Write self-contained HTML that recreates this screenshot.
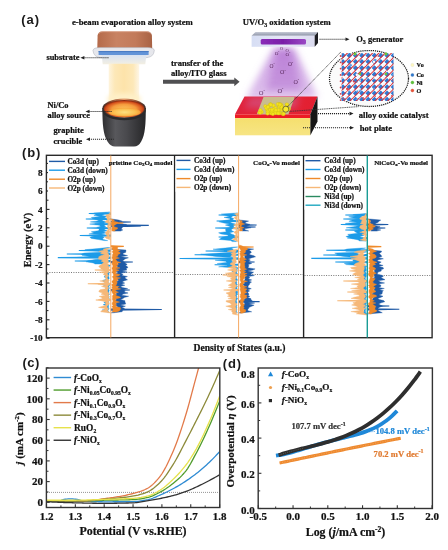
<!DOCTYPE html>
<html><head><meta charset="utf-8"><title>Figure</title>
<style>html,body{margin:0;padding:0;background:#fff;width:448px;height:550px;overflow:hidden}svg{display:block}</style>
</head><body><svg width="448" height="550" viewBox="0 0 448 550">
<defs>
<linearGradient id="copper" x1="0" x2="1" y1="0" y2="0">
 <stop offset="0" stop-color="#b46a4a"/><stop offset="0.35" stop-color="#c88262"/><stop offset="0.7" stop-color="#c27a5a"/><stop offset="1" stop-color="#a86244"/>
</linearGradient>
<linearGradient id="beam" x1="0" x2="1" y1="0" y2="0">
 <stop offset="0" stop-color="#fef4de"/><stop offset="0.2" stop-color="#fde8b8"/><stop offset="0.5" stop-color="#fde3aa"/><stop offset="0.8" stop-color="#fde8b8"/><stop offset="1" stop-color="#fef6e6"/>
</linearGradient>
<linearGradient id="beamv" x1="0" x2="0" y1="0" y2="1">
 <stop offset="0" stop-color="#ffffff" stop-opacity="0.35"/><stop offset="1" stop-color="#ffffff" stop-opacity="0"/>
</linearGradient>
<linearGradient id="cruc" x1="0" x2="1" y1="0" y2="0">
 <stop offset="0" stop-color="#2e2e30"/><stop offset="0.3" stop-color="#58585c"/><stop offset="0.55" stop-color="#4a4a4e"/><stop offset="1" stop-color="#262628"/>
</linearGradient>
<radialGradient id="melt" cx="0.5" cy="0.5" r="0.5">
 <stop offset="0" stop-color="#fde080"/><stop offset="0.7" stop-color="#fbc050"/><stop offset="1" stop-color="#f6a038"/>
</radialGradient>
<linearGradient id="inner" x1="0" x2="1" y1="0" y2="0">
 <stop offset="0" stop-color="#8a1e10"/><stop offset="0.2" stop-color="#e0622a"/><stop offset="0.5" stop-color="#f6a860"/><stop offset="0.8" stop-color="#e0622a"/><stop offset="1" stop-color="#8a1e10"/>
</linearGradient>
<linearGradient id="lamptop" x1="0" x2="0" y1="0" y2="1">
 <stop offset="0" stop-color="#c6cad6"/><stop offset="1" stop-color="#8c93a6"/>
</linearGradient>
<linearGradient id="lampbar" x1="0" x2="1" y1="0" y2="0">
 <stop offset="0" stop-color="#8a2cb8"/><stop offset="0.5" stop-color="#7a1ea8"/><stop offset="1" stop-color="#9a48c4"/>
</linearGradient>
<linearGradient id="cone" x1="0" x2="0" y1="0" y2="1">
 <stop offset="0" stop-color="#b87ad8" stop-opacity="0.75"/><stop offset="1" stop-color="#c898e0" stop-opacity="0.6"/>
</linearGradient>
<filter id="blur3" x="-30%" y="-30%" width="160%" height="160%"><feGaussianBlur stdDeviation="3.5"/></filter>
<linearGradient id="plate" x1="0" x2="0" y1="0" y2="1"><stop offset="0" stop-color="#e4e6ec"/><stop offset="0.5" stop-color="#eef2f8"/><stop offset="1" stop-color="#dfe8f3"/></linearGradient>
<radialGradient id="opening" cx="0.5" cy="0.55" r="0.55"><stop offset="0" stop-color="#fcc860"/><stop offset="0.55" stop-color="#f59a3c"/><stop offset="0.82" stop-color="#d5501c"/><stop offset="1" stop-color="#6e1808"/></radialGradient>
<filter id="blur2" x="-50%" y="-50%" width="200%" height="200%"><feGaussianBlur stdDeviation="2"/></filter>
<linearGradient id="lampfront" x1="0" x2="1" y1="0" y2="0"><stop offset="0" stop-color="#d6def4"/><stop offset="0.5" stop-color="#e6e6f6"/><stop offset="1" stop-color="#dcdcf0"/></linearGradient>
<linearGradient id="glass" x1="0" x2="0" y1="0" y2="1"><stop offset="0" stop-color="#d8e2f2"/><stop offset="1" stop-color="#f3efe2"/></linearGradient>
<linearGradient id="rimg" x1="0" x2="1" y1="0" y2="0"><stop offset="0" stop-color="#3a2a26"/><stop offset="0.2" stop-color="#8a4a30"/><stop offset="0.5" stop-color="#e8a070"/><stop offset="0.8" stop-color="#8a4a30"/><stop offset="1" stop-color="#3a2a26"/></linearGradient>
<filter id="blur1" x="-10%" y="-10%" width="120%" height="120%"><feGaussianBlur stdDeviation="0.6"/></filter>
<linearGradient id="yel" x1="0" x2="0" y1="0" y2="1">
 <stop offset="0" stop-color="#f5df6e"/><stop offset="1" stop-color="#f7e584"/>
</linearGradient>
<linearGradient id="redtop" x1="0" x2="1" y1="0" y2="0">
 <stop offset="0" stop-color="#e0203a"/><stop offset="0.4" stop-color="#e6283a"/><stop offset="1" stop-color="#e21e30"/>
</linearGradient>
<clipPath id="ellclip"><rect x="341.5" y="53" width="52" height="48"/></clipPath>
<clipPath id="cl1"><rect x="46.5" y="155.5" width="128" height="182"/></clipPath>
<clipPath id="cl2"><rect x="175" y="155.5" width="128.5" height="182"/></clipPath>
<clipPath id="cl3"><rect x="304" y="155.5" width="128" height="182"/></clipPath>
<clipPath id="clc"><rect x="46.5" y="368" width="173.3" height="139.5"/></clipPath>
<clipPath id="cld"><rect x="258.5" y="368" width="174" height="140.5"/></clipPath>
</defs>
<rect width="448" height="550" fill="#ffffff"/><text x="21.3" y="24.2" font-size="13" font-family="'Liberation Sans', Arial, sans-serif" font-weight="bold" text-anchor="start" fill="#1a1a1a" letter-spacing="0.9">(a)</text>
<text x="71.9" y="25" font-size="8.7" font-family="'Liberation Serif', 'Times New Roman', serif" font-weight="bold" text-anchor="start" fill="#111" stroke="#111" stroke-width="0.22" >e-beam evaporation alloy system</text>
<text x="286.7" y="25" font-size="8.6" font-family="'Liberation Serif', 'Times New Roman', serif" font-weight="bold" text-anchor="middle" fill="#111" stroke="#111" stroke-width="0.22" >UV/O<tspan font-size="6" dy="2">3</tspan><tspan dy="-2"> oxidation system</tspan></text>
<path d="M97.3,49 L97.6,35.5 Q98,31.6 102,31.4 L147.5,31.4 Q151.6,31.6 151.9,35.5 L152.2,49 Q124.75,51.5 97.3,49 Z" fill="url(#copper)"/>
<path d="M99,33.5 Q100,31.8 103,31.7 L146.5,31.7 Q149.5,31.8 150.5,33.5" fill="none" stroke="#d9a088" stroke-width="0.8"/>
<path d="M93,50.3 Q93.5,47.6 100,47.6 L147.5,47.6 Q154,47.6 154.3,50.3 Q154,56.8 147,57.6 L100,57.6 Q93.4,56.8 93,50.3 Z" fill="#e6e7ec" stroke="#a9acb6" stroke-width="0.5"/>
<path d="M101.7,55 L146.3,55 L145.3,64.3 L102.7,64.3 Z" fill="url(#glass)"/>
<rect x="98.6" y="51" width="50" height="4" fill="#6394d8"/>
<rect x="98.6" y="51" width="50" height="1.1" fill="#4a7cc4"/>
<rect x="108.7" y="63.8" width="30.5" height="38" fill="url(#beam)"/>
<ellipse cx="124" cy="99" rx="17" ry="6" fill="#fff0c8" filter="url(#blur2)"/>
<path d="M102.4,108 C102.4,124 103.2,135 107.5,141.5 Q110.5,146.6 115,146.6 L134,146.6 Q138.5,146.6 141.2,141.5 C145.2,135 145.8,124 145.8,108 Z" fill="url(#cruc)"/>
<ellipse cx="124.1" cy="108.2" rx="21.7" ry="9.6" fill="url(#rimg)"/>
<ellipse cx="124.1" cy="108.6" rx="20.2" ry="8.6" fill="url(#opening)"/>
<ellipse cx="124.6" cy="112.2" rx="16" ry="4.4" fill="url(#melt)" filter="url(#blur1)"/>
<path d="M102.4,108.2 A21.7,9.6 0 0 0 145.8,108.2 L145.8,110.6 A21.7,9.6 0 0 1 102.4,110.6 Z" fill="#2a2a2c"/>
<text x="46.4" y="59.5" font-size="8.4" font-family="'Liberation Serif', 'Times New Roman', serif" font-weight="bold" text-anchor="start" fill="#111" stroke="#111" stroke-width="0.22" >substrate</text>
<line x1="83.4" y1="57.8" x2="108.5" y2="57.8" stroke="#222" stroke-width="1.1" stroke-dasharray="1.1,0.9"/>
<path d="M80.4,57.8 L84.4,56.0 L84.4,59.599999999999994Z" fill="#222"/>
<text x="47.5" y="107.6" font-size="8.4" font-family="'Liberation Serif', 'Times New Roman', serif" font-weight="bold" text-anchor="start" fill="#111" stroke="#111" stroke-width="0.22" >Ni/Co</text>
<text x="47.5" y="117.8" font-size="8.4" font-family="'Liberation Serif', 'Times New Roman', serif" font-weight="bold" text-anchor="start" fill="#111" stroke="#111" stroke-width="0.22" >alloy source</text>
<line x1="88.5" y1="111.5" x2="112.5" y2="111.5" stroke="#222" stroke-width="1.1" stroke-dasharray="1.1,0.9"/>
<path d="M85.5,111.5 L89.5,109.7 L89.5,113.3Z" fill="#222"/>
<text x="53.4" y="133.3" font-size="8.4" font-family="'Liberation Serif', 'Times New Roman', serif" font-weight="bold" text-anchor="start" fill="#111" stroke="#111" stroke-width="0.22" >graphite</text>
<text x="53.4" y="143.5" font-size="8.4" font-family="'Liberation Serif', 'Times New Roman', serif" font-weight="bold" text-anchor="start" fill="#111" stroke="#111" stroke-width="0.22" >crucible</text>
<line x1="89" y1="139.2" x2="113.7" y2="139.2" stroke="#222" stroke-width="1.1" stroke-dasharray="1.1,0.9"/>
<path d="M86,139.2 L90,137.39999999999998 L90,141.0Z" fill="#222"/>
<text x="171" y="65.7" font-size="8.6" font-family="'Liberation Serif', 'Times New Roman', serif" font-weight="bold" text-anchor="start" fill="#111" stroke="#111" stroke-width="0.22" >transfer of the</text>
<text x="171" y="76.2" font-size="8.6" font-family="'Liberation Serif', 'Times New Roman', serif" font-weight="bold" text-anchor="start" fill="#111" stroke="#111" stroke-width="0.22" >alloy/ITO glass</text>
<path d="M163,79.8 L234.3,79.8 L234.3,77.5 L239.6,81.8 L234.3,86.2 L234.3,83.8 L163,83.8 Z" fill="#505052"/>
<path d="M274,48 L294,48 L318,98 L246,98 Z" fill="url(#cone)" filter="url(#blur3)"/>
<path d="M278,49 L290,49 L302,90 L266,90 Z" fill="#a050c4" opacity="0.35" filter="url(#blur3)"/>
<text x="258.7" y="94.9" font-size="6.5" font-family="'Liberation Serif', 'Times New Roman', serif" fill="#5a2a5e">O<tspan font-size="3.9" dy="-2.6">-</tspan></text>
<text x="277.4" y="93.0" font-size="6.5" font-family="'Liberation Serif', 'Times New Roman', serif" fill="#5a2a5e">O<tspan font-size="3.9" dy="-2.6">-</tspan></text>
<text x="293.5" y="83.6" font-size="6" font-family="'Liberation Serif', 'Times New Roman', serif" fill="#5a2a5e">O<tspan font-size="3.6" dy="-2.4">-</tspan></text>
<text x="280.1" y="74.2" font-size="6" font-family="'Liberation Serif', 'Times New Roman', serif" fill="#5a2a5e">O<tspan font-size="3.6" dy="-2.4">-</tspan></text>
<text x="269.4" y="67.5" font-size="5.5" font-family="'Liberation Serif', 'Times New Roman', serif" fill="#5a2a5e">O<tspan font-size="3.3" dy="-2.2">-</tspan></text>
<text x="288.1" y="66.2" font-size="5.5" font-family="'Liberation Serif', 'Times New Roman', serif" fill="#5a2a5e">O<tspan font-size="3.3" dy="-2.2">-</tspan></text>
<text x="274.7" y="54.7" font-size="5" font-family="'Liberation Serif', 'Times New Roman', serif" fill="#5a2a5e">O<tspan font-size="3.0" dy="-2.0">-</tspan></text>
<text x="285.5" y="56.0" font-size="5" font-family="'Liberation Serif', 'Times New Roman', serif" fill="#5a2a5e">O<tspan font-size="3.0" dy="-2.0">-</tspan></text>
<text x="280.1" y="50.1" font-size="4.5" font-family="'Liberation Serif', 'Times New Roman', serif" fill="#5a2a5e">O<tspan font-size="2.7" dy="-1.8">-</tspan></text>
<text x="285.5" y="51.5" font-size="4.5" font-family="'Liberation Serif', 'Times New Roman', serif" fill="#5a2a5e">O<tspan font-size="2.7" dy="-1.8">-</tspan></text>
<path d="M255.5,32 L318,32 L314.7,35.8 L251.6,35.8 Z" fill="url(#lamptop)"/>
<rect x="251.6" y="35.8" width="63.1" height="11" fill="url(#lampfront)"/>
<rect x="260.7" y="39" width="45.3" height="5.4" rx="1.5" fill="url(#lampbar)" filter="url(#blur1)"/>
<path d="M314.7,35.8 L318,32 L318,43 L314.7,46.8 Z" fill="#1e1e22"/>
<line x1="319.5" y1="39.3" x2="346.5" y2="39.3" stroke="#222" stroke-width="1.1" stroke-dasharray="1.1,0.9"/>
<path d="M349.5,39.3 L345.5,37.5 L345.5,41.099999999999994Z" fill="#222"/>
<text x="356.2" y="41.6" font-size="8.5" font-family="'Liberation Serif', 'Times New Roman', serif" font-weight="bold" text-anchor="start" fill="#111" stroke="#111" stroke-width="0.22" >O<tspan font-size="6" dy="2">3</tspan><tspan dy="-2"> generator</tspan></text>
<path d="M244.5,96.5 L317.5,96.5 L310.4,114.3 L235,114.3 Z" fill="url(#redtop)"/>
<rect x="235" y="114.3" width="75.4" height="3.8" fill="#ec1c24"/>
<rect x="235" y="118.1" width="75.4" height="17.2" fill="url(#yel)"/>
<path d="M310.4,114.3 L317.5,96.5 L317.5,121.5 L310.4,135.3 Z" fill="#161616"/>
<path d="M250,97 L300,97 L296,108 L244,108 Z" fill="#c080d0" opacity="0.35" filter="url(#blur3)"/>
<path d="M263.5,97 L294.7,97 L288.5,114.3 L256.8,114.3 Z" fill="#c9bd8e"/>
<circle cx="267.0" cy="109.4" r="1.7" fill="#f3e21c" stroke="#c8b410" stroke-width="0.3"/><circle cx="270.5" cy="110.0" r="1.7" fill="#f3e21c" stroke="#c8b410" stroke-width="0.3"/><circle cx="279.8" cy="104.7" r="1.7" fill="#f3e21c" stroke="#c8b410" stroke-width="0.3"/><circle cx="259.4" cy="112.4" r="1.7" fill="#f3e21c" stroke="#c8b410" stroke-width="0.3"/><circle cx="268.8" cy="106.3" r="1.7" fill="#f3e21c" stroke="#c8b410" stroke-width="0.3"/><circle cx="288.9" cy="108.7" r="1.7" fill="#f3e21c" stroke="#c8b410" stroke-width="0.3"/><circle cx="284.3" cy="108.8" r="1.7" fill="#f3e21c" stroke="#c8b410" stroke-width="0.3"/><circle cx="279.9" cy="105.5" r="1.7" fill="#f3e21c" stroke="#c8b410" stroke-width="0.3"/><circle cx="277.1" cy="112.7" r="1.7" fill="#f3e21c" stroke="#c8b410" stroke-width="0.3"/><circle cx="274.4" cy="111.4" r="1.7" fill="#f3e21c" stroke="#c8b410" stroke-width="0.3"/><circle cx="281.1" cy="104.6" r="1.7" fill="#f3e21c" stroke="#c8b410" stroke-width="0.3"/><circle cx="281.7" cy="109.9" r="1.7" fill="#f3e21c" stroke="#c8b410" stroke-width="0.3"/><circle cx="270.7" cy="104.3" r="1.7" fill="#f3e21c" stroke="#c8b410" stroke-width="0.3"/><circle cx="285.2" cy="108.7" r="1.7" fill="#f3e21c" stroke="#c8b410" stroke-width="0.3"/><circle cx="279.5" cy="112.8" r="1.7" fill="#f3e21c" stroke="#c8b410" stroke-width="0.3"/><circle cx="279.2" cy="113.2" r="1.7" fill="#f3e21c" stroke="#c8b410" stroke-width="0.3"/><circle cx="270.5" cy="112.0" r="1.7" fill="#f3e21c" stroke="#c8b410" stroke-width="0.3"/><circle cx="271.4" cy="113.4" r="1.7" fill="#f3e21c" stroke="#c8b410" stroke-width="0.3"/><circle cx="286.9" cy="105.0" r="1.7" fill="#f3e21c" stroke="#c8b410" stroke-width="0.3"/><circle cx="265.3" cy="106.2" r="1.7" fill="#f3e21c" stroke="#c8b410" stroke-width="0.3"/><circle cx="288.1" cy="108.4" r="1.7" fill="#f3e21c" stroke="#c8b410" stroke-width="0.3"/><circle cx="279.0" cy="107.0" r="1.7" fill="#f3e21c" stroke="#c8b410" stroke-width="0.3"/><circle cx="275.3" cy="107.9" r="1.7" fill="#f3e21c" stroke="#c8b410" stroke-width="0.3"/><circle cx="270.0" cy="109.9" r="1.7" fill="#f3e21c" stroke="#c8b410" stroke-width="0.3"/><circle cx="275.5" cy="113.0" r="1.7" fill="#f3e21c" stroke="#c8b410" stroke-width="0.3"/><circle cx="278.2" cy="113.3" r="1.7" fill="#f3e21c" stroke="#c8b410" stroke-width="0.3"/><circle cx="283.0" cy="113.9" r="1.7" fill="#f3e21c" stroke="#c8b410" stroke-width="0.3"/><circle cx="280.8" cy="105.6" r="1.7" fill="#f3e21c" stroke="#c8b410" stroke-width="0.3"/><circle cx="283.2" cy="113.6" r="1.7" fill="#f3e21c" stroke="#c8b410" stroke-width="0.3"/><circle cx="285.9" cy="109.7" r="1.7" fill="#f3e21c" stroke="#c8b410" stroke-width="0.3"/><circle cx="281.8" cy="106.1" r="1.7" fill="#f3e21c" stroke="#c8b410" stroke-width="0.3"/><circle cx="283.8" cy="109.7" r="1.7" fill="#f3e21c" stroke="#c8b410" stroke-width="0.3"/><circle cx="270.1" cy="104.6" r="1.7" fill="#f3e21c" stroke="#c8b410" stroke-width="0.3"/><circle cx="283.0" cy="113.9" r="1.7" fill="#f3e21c" stroke="#c8b410" stroke-width="0.3"/><circle cx="261.7" cy="112.0" r="1.7" fill="#f3e21c" stroke="#c8b410" stroke-width="0.3"/><circle cx="273.4" cy="105.5" r="1.7" fill="#f3e21c" stroke="#c8b410" stroke-width="0.3"/><circle cx="267.7" cy="111.7" r="1.7" fill="#f3e21c" stroke="#c8b410" stroke-width="0.3"/><circle cx="286.9" cy="104.4" r="1.7" fill="#f3e21c" stroke="#c8b410" stroke-width="0.3"/><circle cx="279.6" cy="104.4" r="1.7" fill="#f3e21c" stroke="#c8b410" stroke-width="0.3"/><circle cx="281.5" cy="107.3" r="1.7" fill="#f3e21c" stroke="#c8b410" stroke-width="0.3"/><circle cx="283.8" cy="113.8" r="1.7" fill="#f3e21c" stroke="#c8b410" stroke-width="0.3"/><circle cx="272.9" cy="114.0" r="1.7" fill="#f3e21c" stroke="#c8b410" stroke-width="0.3"/><circle cx="270.8" cy="104.8" r="1.7" fill="#f3e21c" stroke="#c8b410" stroke-width="0.3"/><circle cx="279.2" cy="104.3" r="1.7" fill="#f3e21c" stroke="#c8b410" stroke-width="0.3"/><circle cx="266.3" cy="108.1" r="1.7" fill="#f3e21c" stroke="#c8b410" stroke-width="0.3"/><circle cx="279.1" cy="105.6" r="1.7" fill="#f3e21c" stroke="#c8b410" stroke-width="0.3"/><circle cx="260.1" cy="112.7" r="1.7" fill="#f3e21c" stroke="#c8b410" stroke-width="0.3"/><circle cx="267.6" cy="113.6" r="1.7" fill="#f3e21c" stroke="#c8b410" stroke-width="0.3"/><circle cx="286.4" cy="107.8" r="1.7" fill="#f3e21c" stroke="#c8b410" stroke-width="0.3"/><circle cx="273.4" cy="109.2" r="1.7" fill="#f3e21c" stroke="#c8b410" stroke-width="0.3"/><circle cx="278.4" cy="110.0" r="1.7" fill="#f3e21c" stroke="#c8b410" stroke-width="0.3"/><circle cx="275.9" cy="110.2" r="1.7" fill="#f3e21c" stroke="#c8b410" stroke-width="0.3"/><circle cx="287.2" cy="109.1" r="1.7" fill="#f3e21c" stroke="#c8b410" stroke-width="0.3"/><circle cx="271.8" cy="111.2" r="1.7" fill="#f3e21c" stroke="#c8b410" stroke-width="0.3"/><circle cx="267.9" cy="107.0" r="1.7" fill="#f3e21c" stroke="#c8b410" stroke-width="0.3"/><circle cx="288.2" cy="109.2" r="1.7" fill="#f3e21c" stroke="#c8b410" stroke-width="0.3"/><circle cx="277.8" cy="104.1" r="1.7" fill="#f3e21c" stroke="#c8b410" stroke-width="0.3"/><circle cx="271.9" cy="109.8" r="1.7" fill="#f3e21c" stroke="#c8b410" stroke-width="0.3"/><circle cx="260.5" cy="110.2" r="1.7" fill="#f3e21c" stroke="#c8b410" stroke-width="0.3"/><circle cx="280.0" cy="104.6" r="1.7" fill="#f3e21c" stroke="#c8b410" stroke-width="0.3"/>
<circle cx="285.8" cy="109.2" r="3" fill="#f7ea30" stroke="#333" stroke-width="0.6"/>
<line x1="287.3" y1="107" x2="341" y2="51.8" stroke="#333" stroke-width="0.8" stroke-dasharray="1.2,0.6"/>
<line x1="289.5" y1="111.4" x2="358.6" y2="106.6" stroke="#333" stroke-width="0.8" stroke-dasharray="1.2,0.6"/>
<line x1="318" y1="113.6" x2="350.5" y2="113.6" stroke="#222" stroke-width="1.1" stroke-dasharray="1.1,0.9"/>
<path d="M353.5,113.6 L349.5,111.8 L349.5,115.39999999999999Z" fill="#222"/>
<line x1="303" y1="127.8" x2="351" y2="127.8" stroke="#222" stroke-width="1.1" stroke-dasharray="1.1,0.9"/>
<path d="M354,127.8 L350,126.0 L350,129.6Z" fill="#222"/>
<text x="358.8" y="117.9" font-size="8.6" font-family="'Liberation Serif', 'Times New Roman', serif" font-weight="bold" text-anchor="start" fill="#111" stroke="#111" stroke-width="0.22" >alloy oxide catalyst</text>
<text x="359.8" y="131.3" font-size="8.6" font-family="'Liberation Serif', 'Times New Roman', serif" font-weight="bold" text-anchor="start" fill="#111" stroke="#111" stroke-width="0.22" >hot plate</text>
<ellipse cx="369" cy="78.5" rx="39.5" ry="28" fill="#fbfbfb" stroke="#1a1a1a" stroke-width="1.25" stroke-dasharray="1.2,0.9"/>
<g clip-path="url(#ellclip)"><rect x="341" y="53.5" width="52" height="47.5" fill="#ffffff"/><path d="M343.0,52.7 L345.8,55.5 L343.0,58.3 L340.2,55.5Z" fill="#3078d0"/><path d="M343.0,59.0 L345.8,61.8 L343.0,64.6 L340.2,61.8Z" fill="#3078d0"/><path d="M343.0,65.3 L345.8,68.1 L343.0,70.9 L340.2,68.1Z" fill="#3078d0"/><path d="M343.0,71.6 L345.8,74.4 L343.0,77.2 L340.2,74.4Z" fill="#3078d0"/><path d="M343.0,77.9 L345.8,80.7 L343.0,83.5 L340.2,80.7Z" fill="#3078d0"/><path d="M343.0,84.2 L345.8,87.0 L343.0,89.8 L340.2,87.0Z" fill="#3078d0"/><path d="M343.0,90.5 L345.8,93.3 L343.0,96.1 L340.2,93.3Z" fill="#3078d0"/><path d="M343.0,96.8 L345.8,99.6 L343.0,102.4 L340.2,99.6Z" fill="#3078d0"/><path d="M349.3,52.7 L352.1,55.5 L349.3,58.3 L346.5,55.5Z" fill="#3078d0"/><path d="M349.3,59.0 L352.1,61.8 L349.3,64.6 L346.5,61.8Z" fill="#3078d0"/><path d="M349.3,65.3 L352.1,68.1 L349.3,70.9 L346.5,68.1Z" fill="#3078d0"/><path d="M349.3,71.6 L352.1,74.4 L349.3,77.2 L346.5,74.4Z" fill="#3078d0"/><path d="M349.3,77.9 L352.1,80.7 L349.3,83.5 L346.5,80.7Z" fill="#3078d0"/><path d="M349.3,84.2 L352.1,87.0 L349.3,89.8 L346.5,87.0Z" fill="#3078d0"/><path d="M349.3,90.5 L352.1,93.3 L349.3,96.1 L346.5,93.3Z" fill="#3078d0"/><path d="M349.3,96.8 L352.1,99.6 L349.3,102.4 L346.5,99.6Z" fill="#3078d0"/><path d="M355.6,52.7 L358.4,55.5 L355.6,58.3 L352.8,55.5Z" fill="#3078d0"/><path d="M355.6,59.0 L358.4,61.8 L355.6,64.6 L352.8,61.8Z" fill="#3078d0"/><path d="M355.6,65.3 L358.4,68.1 L355.6,70.9 L352.8,68.1Z" fill="#3078d0"/><path d="M355.6,71.6 L358.4,74.4 L355.6,77.2 L352.8,74.4Z" fill="#3078d0"/><path d="M355.6,77.9 L358.4,80.7 L355.6,83.5 L352.8,80.7Z" fill="#3078d0"/><path d="M355.6,84.2 L358.4,87.0 L355.6,89.8 L352.8,87.0Z" fill="#3078d0"/><path d="M355.6,90.5 L358.4,93.3 L355.6,96.1 L352.8,93.3Z" fill="#3078d0"/><path d="M355.6,96.8 L358.4,99.6 L355.6,102.4 L352.8,99.6Z" fill="#3078d0"/><path d="M361.9,52.7 L364.7,55.5 L361.9,58.3 L359.1,55.5Z" fill="#3078d0"/><path d="M361.9,59.0 L364.7,61.8 L361.9,64.6 L359.1,61.8Z" fill="#3078d0"/><path d="M361.9,65.3 L364.7,68.1 L361.9,70.9 L359.1,68.1Z" fill="#3078d0"/><path d="M361.9,71.6 L364.7,74.4 L361.9,77.2 L359.1,74.4Z" fill="#3078d0"/><path d="M361.9,77.9 L364.7,80.7 L361.9,83.5 L359.1,80.7Z" fill="#3078d0"/><path d="M361.9,84.2 L364.7,87.0 L361.9,89.8 L359.1,87.0Z" fill="#3078d0"/><path d="M361.9,90.5 L364.7,93.3 L361.9,96.1 L359.1,93.3Z" fill="#3078d0"/><path d="M361.9,96.8 L364.7,99.6 L361.9,102.4 L359.1,99.6Z" fill="#3078d0"/><path d="M368.2,52.7 L371.0,55.5 L368.2,58.3 L365.4,55.5Z" fill="#3078d0"/><path d="M368.2,59.0 L371.0,61.8 L368.2,64.6 L365.4,61.8Z" fill="#3078d0"/><path d="M368.2,65.3 L371.0,68.1 L368.2,70.9 L365.4,68.1Z" fill="#3078d0"/><path d="M368.2,71.6 L371.0,74.4 L368.2,77.2 L365.4,74.4Z" fill="#3078d0"/><path d="M368.2,77.9 L371.0,80.7 L368.2,83.5 L365.4,80.7Z" fill="#3078d0"/><path d="M368.2,84.2 L371.0,87.0 L368.2,89.8 L365.4,87.0Z" fill="#3078d0"/><path d="M368.2,90.5 L371.0,93.3 L368.2,96.1 L365.4,93.3Z" fill="#3078d0"/><path d="M368.2,96.8 L371.0,99.6 L368.2,102.4 L365.4,99.6Z" fill="#3078d0"/><path d="M374.5,52.7 L377.3,55.5 L374.5,58.3 L371.7,55.5Z" fill="#3078d0"/><path d="M374.5,59.0 L377.3,61.8 L374.5,64.6 L371.7,61.8Z" fill="#3078d0"/><path d="M374.5,65.3 L377.3,68.1 L374.5,70.9 L371.7,68.1Z" fill="#3078d0"/><path d="M374.5,71.6 L377.3,74.4 L374.5,77.2 L371.7,74.4Z" fill="#3078d0"/><path d="M374.5,77.9 L377.3,80.7 L374.5,83.5 L371.7,80.7Z" fill="#3078d0"/><path d="M374.5,84.2 L377.3,87.0 L374.5,89.8 L371.7,87.0Z" fill="#3078d0"/><path d="M374.5,90.5 L377.3,93.3 L374.5,96.1 L371.7,93.3Z" fill="#3078d0"/><path d="M374.5,96.8 L377.3,99.6 L374.5,102.4 L371.7,99.6Z" fill="#3078d0"/><path d="M380.8,52.7 L383.6,55.5 L380.8,58.3 L378.0,55.5Z" fill="#3078d0"/><path d="M380.8,59.0 L383.6,61.8 L380.8,64.6 L378.0,61.8Z" fill="#3078d0"/><path d="M380.8,65.3 L383.6,68.1 L380.8,70.9 L378.0,68.1Z" fill="#3078d0"/><path d="M380.8,71.6 L383.6,74.4 L380.8,77.2 L378.0,74.4Z" fill="#3078d0"/><path d="M380.8,77.9 L383.6,80.7 L380.8,83.5 L378.0,80.7Z" fill="#3078d0"/><path d="M380.8,84.2 L383.6,87.0 L380.8,89.8 L378.0,87.0Z" fill="#3078d0"/><path d="M380.8,90.5 L383.6,93.3 L380.8,96.1 L378.0,93.3Z" fill="#3078d0"/><path d="M380.8,96.8 L383.6,99.6 L380.8,102.4 L378.0,99.6Z" fill="#3078d0"/><path d="M387.1,52.7 L389.9,55.5 L387.1,58.3 L384.3,55.5Z" fill="#3078d0"/><path d="M387.1,59.0 L389.9,61.8 L387.1,64.6 L384.3,61.8Z" fill="#3078d0"/><path d="M387.1,65.3 L389.9,68.1 L387.1,70.9 L384.3,68.1Z" fill="#3078d0"/><path d="M387.1,71.6 L389.9,74.4 L387.1,77.2 L384.3,74.4Z" fill="#3078d0"/><path d="M387.1,77.9 L389.9,80.7 L387.1,83.5 L384.3,80.7Z" fill="#3078d0"/><path d="M387.1,84.2 L389.9,87.0 L387.1,89.8 L384.3,87.0Z" fill="#3078d0"/><path d="M387.1,90.5 L389.9,93.3 L387.1,96.1 L384.3,93.3Z" fill="#3078d0"/><path d="M387.1,96.8 L389.9,99.6 L387.1,102.4 L384.3,99.6Z" fill="#3078d0"/><path d="M393.4,52.7 L396.2,55.5 L393.4,58.3 L390.6,55.5Z" fill="#3078d0"/><path d="M393.4,59.0 L396.2,61.8 L393.4,64.6 L390.6,61.8Z" fill="#3078d0"/><path d="M393.4,65.3 L396.2,68.1 L393.4,70.9 L390.6,68.1Z" fill="#3078d0"/><path d="M393.4,71.6 L396.2,74.4 L393.4,77.2 L390.6,74.4Z" fill="#3078d0"/><path d="M393.4,77.9 L396.2,80.7 L393.4,83.5 L390.6,80.7Z" fill="#3078d0"/><path d="M393.4,84.2 L396.2,87.0 L393.4,89.8 L390.6,87.0Z" fill="#3078d0"/><path d="M393.4,90.5 L396.2,93.3 L393.4,96.1 L390.6,93.3Z" fill="#3078d0"/><path d="M393.4,96.8 L396.2,99.6 L393.4,102.4 L390.6,99.6Z" fill="#3078d0"/><line x1="267.0" y1="102" x2="317.0" y2="52" stroke="#d8323a" stroke-width="1.05"/><line x1="273.3" y1="102" x2="323.3" y2="52" stroke="#d8323a" stroke-width="1.05"/><line x1="279.6" y1="102" x2="329.6" y2="52" stroke="#d8323a" stroke-width="1.05"/><line x1="285.9" y1="102" x2="335.9" y2="52" stroke="#d8323a" stroke-width="1.05"/><line x1="292.2" y1="102" x2="342.2" y2="52" stroke="#d8323a" stroke-width="1.05"/><line x1="298.5" y1="102" x2="348.5" y2="52" stroke="#d8323a" stroke-width="1.05"/><line x1="304.8" y1="102" x2="354.8" y2="52" stroke="#d8323a" stroke-width="1.05"/><line x1="311.1" y1="102" x2="361.1" y2="52" stroke="#d8323a" stroke-width="1.05"/><line x1="317.4" y1="102" x2="367.4" y2="52" stroke="#d8323a" stroke-width="1.05"/><line x1="323.7" y1="102" x2="373.7" y2="52" stroke="#d8323a" stroke-width="1.05"/><line x1="330.0" y1="102" x2="380.0" y2="52" stroke="#d8323a" stroke-width="1.05"/><line x1="336.3" y1="102" x2="386.3" y2="52" stroke="#d8323a" stroke-width="1.05"/><line x1="342.6" y1="102" x2="392.6" y2="52" stroke="#d8323a" stroke-width="1.05"/><line x1="348.9" y1="102" x2="398.9" y2="52" stroke="#d8323a" stroke-width="1.05"/><line x1="355.2" y1="102" x2="405.2" y2="52" stroke="#d8323a" stroke-width="1.05"/><line x1="361.5" y1="102" x2="411.5" y2="52" stroke="#d8323a" stroke-width="1.05"/><line x1="367.8" y1="102" x2="417.8" y2="52" stroke="#d8323a" stroke-width="1.05"/><line x1="374.1" y1="102" x2="424.1" y2="52" stroke="#d8323a" stroke-width="1.05"/><line x1="380.4" y1="102" x2="430.4" y2="52" stroke="#d8323a" stroke-width="1.05"/><line x1="386.7" y1="102" x2="436.7" y2="52" stroke="#d8323a" stroke-width="1.05"/><line x1="393.0" y1="102" x2="443.0" y2="52" stroke="#d8323a" stroke-width="1.05"/><line x1="399.3" y1="102" x2="449.3" y2="52" stroke="#d8323a" stroke-width="1.05"/><line x1="405.6" y1="102" x2="455.6" y2="52" stroke="#d8323a" stroke-width="1.05"/><line x1="411.9" y1="102" x2="461.9" y2="52" stroke="#d8323a" stroke-width="1.05"/><circle cx="346.1" cy="58.6" r="1.1" fill="#eef4ff"/><circle cx="346.1" cy="65.0" r="1.1" fill="#eef4ff"/><circle cx="346.1" cy="71.2" r="1.1" fill="#eef4ff"/><circle cx="346.1" cy="77.6" r="1.1" fill="#eef4ff"/><circle cx="346.1" cy="83.9" r="1.1" fill="#eef4ff"/><circle cx="346.1" cy="90.2" r="1.1" fill="#eef4ff"/><circle cx="346.1" cy="96.5" r="1.1" fill="#eef4ff"/><circle cx="346.1" cy="102.8" r="1.1" fill="#eef4ff"/><circle cx="352.4" cy="58.6" r="1.1" fill="#eef4ff"/><circle cx="352.4" cy="65.0" r="1.1" fill="#eef4ff"/><circle cx="352.4" cy="71.2" r="1.1" fill="#eef4ff"/><circle cx="352.4" cy="77.6" r="1.1" fill="#eef4ff"/><circle cx="352.4" cy="83.9" r="1.1" fill="#eef4ff"/><circle cx="352.4" cy="90.2" r="1.1" fill="#eef4ff"/><circle cx="352.4" cy="96.5" r="1.1" fill="#eef4ff"/><circle cx="352.4" cy="102.8" r="1.1" fill="#eef4ff"/><circle cx="358.8" cy="58.6" r="1.1" fill="#eef4ff"/><circle cx="358.8" cy="65.0" r="1.1" fill="#eef4ff"/><circle cx="358.8" cy="71.2" r="1.1" fill="#eef4ff"/><circle cx="358.8" cy="77.6" r="1.1" fill="#eef4ff"/><circle cx="358.8" cy="83.9" r="1.1" fill="#eef4ff"/><circle cx="358.8" cy="90.2" r="1.1" fill="#eef4ff"/><circle cx="358.8" cy="96.5" r="1.1" fill="#eef4ff"/><circle cx="358.8" cy="102.8" r="1.1" fill="#eef4ff"/><circle cx="365.0" cy="58.6" r="1.1" fill="#eef4ff"/><circle cx="365.0" cy="65.0" r="1.1" fill="#eef4ff"/><circle cx="365.0" cy="71.2" r="1.1" fill="#eef4ff"/><circle cx="365.0" cy="77.6" r="1.1" fill="#eef4ff"/><circle cx="365.0" cy="83.9" r="1.1" fill="#eef4ff"/><circle cx="365.0" cy="90.2" r="1.1" fill="#eef4ff"/><circle cx="365.0" cy="96.5" r="1.1" fill="#eef4ff"/><circle cx="365.0" cy="102.8" r="1.1" fill="#eef4ff"/><circle cx="371.3" cy="58.6" r="1.1" fill="#eef4ff"/><circle cx="371.3" cy="65.0" r="1.1" fill="#eef4ff"/><circle cx="371.3" cy="71.2" r="1.1" fill="#eef4ff"/><circle cx="371.3" cy="77.6" r="1.1" fill="#eef4ff"/><circle cx="371.3" cy="83.9" r="1.1" fill="#eef4ff"/><circle cx="371.3" cy="90.2" r="1.1" fill="#eef4ff"/><circle cx="371.3" cy="96.5" r="1.1" fill="#eef4ff"/><circle cx="371.3" cy="102.8" r="1.1" fill="#eef4ff"/><circle cx="377.6" cy="58.6" r="1.1" fill="#eef4ff"/><circle cx="377.6" cy="65.0" r="1.1" fill="#eef4ff"/><circle cx="377.6" cy="71.2" r="1.1" fill="#eef4ff"/><circle cx="377.6" cy="77.6" r="1.1" fill="#eef4ff"/><circle cx="377.6" cy="83.9" r="1.1" fill="#eef4ff"/><circle cx="377.6" cy="90.2" r="1.1" fill="#eef4ff"/><circle cx="377.6" cy="96.5" r="1.1" fill="#eef4ff"/><circle cx="377.6" cy="102.8" r="1.1" fill="#eef4ff"/><circle cx="383.9" cy="58.6" r="1.1" fill="#eef4ff"/><circle cx="383.9" cy="65.0" r="1.1" fill="#eef4ff"/><circle cx="383.9" cy="71.2" r="1.1" fill="#eef4ff"/><circle cx="383.9" cy="77.6" r="1.1" fill="#eef4ff"/><circle cx="383.9" cy="83.9" r="1.1" fill="#eef4ff"/><circle cx="383.9" cy="90.2" r="1.1" fill="#eef4ff"/><circle cx="383.9" cy="96.5" r="1.1" fill="#eef4ff"/><circle cx="383.9" cy="102.8" r="1.1" fill="#eef4ff"/><circle cx="390.2" cy="58.6" r="1.1" fill="#eef4ff"/><circle cx="390.2" cy="65.0" r="1.1" fill="#eef4ff"/><circle cx="390.2" cy="71.2" r="1.1" fill="#eef4ff"/><circle cx="390.2" cy="77.6" r="1.1" fill="#eef4ff"/><circle cx="390.2" cy="83.9" r="1.1" fill="#eef4ff"/><circle cx="390.2" cy="90.2" r="1.1" fill="#eef4ff"/><circle cx="390.2" cy="96.5" r="1.1" fill="#eef4ff"/><circle cx="390.2" cy="102.8" r="1.1" fill="#eef4ff"/><circle cx="396.5" cy="58.6" r="1.1" fill="#eef4ff"/><circle cx="396.5" cy="65.0" r="1.1" fill="#eef4ff"/><circle cx="396.5" cy="71.2" r="1.1" fill="#eef4ff"/><circle cx="396.5" cy="77.6" r="1.1" fill="#eef4ff"/><circle cx="396.5" cy="83.9" r="1.1" fill="#eef4ff"/><circle cx="396.5" cy="90.2" r="1.1" fill="#eef4ff"/><circle cx="396.5" cy="96.5" r="1.1" fill="#eef4ff"/><circle cx="396.5" cy="102.8" r="1.1" fill="#eef4ff"/><circle cx="373.9" cy="88.6" r="1.1" fill="#5aa0e8"/><circle cx="375.4" cy="78.4" r="1.1" fill="#ffffff"/><circle cx="375.2" cy="96.2" r="0.7" fill="#e04048"/><circle cx="386.7" cy="71.3" r="0.7" fill="#ffffff"/><circle cx="342.2" cy="63.4" r="0.8" fill="#e04048"/><circle cx="349.8" cy="91.3" r="0.7" fill="#5aa0e8"/><circle cx="364.6" cy="59.3" r="1.2" fill="#ffffff"/><circle cx="352.4" cy="63.3" r="1.2" fill="#ffffff"/><circle cx="356.5" cy="99.2" r="0.9" fill="#5aa0e8"/><circle cx="374.0" cy="61.7" r="1.2" fill="#ffffff"/><circle cx="391.8" cy="95.9" r="0.8" fill="#e04048"/><circle cx="363.1" cy="97.9" r="0.8" fill="#e04048"/><circle cx="357.2" cy="81.9" r="0.6" fill="#5aa0e8"/><circle cx="378.3" cy="56.2" r="0.8" fill="#e04048"/><circle cx="366.5" cy="68.2" r="0.9" fill="#5aa0e8"/><circle cx="350.7" cy="65.3" r="1.2" fill="#5aa0e8"/><circle cx="360.1" cy="72.4" r="0.9" fill="#e04048"/><circle cx="360.5" cy="80.8" r="0.6" fill="#ffffff"/><circle cx="378.3" cy="82.9" r="1.2" fill="#ffffff"/><circle cx="380.8" cy="97.6" r="1.2" fill="#e04048"/><circle cx="368.1" cy="95.9" r="0.8" fill="#e04048"/><circle cx="347.1" cy="88.9" r="1.1" fill="#e04048"/><circle cx="343.4" cy="98.4" r="0.7" fill="#e04048"/><circle cx="368.2" cy="70.4" r="0.7" fill="#e04048"/><circle cx="389.6" cy="79.2" r="0.8" fill="#e04048"/><circle cx="357.4" cy="91.3" r="1.0" fill="#5aa0e8"/><circle cx="377.3" cy="100.8" r="0.7" fill="#ffffff"/><circle cx="345.7" cy="81.8" r="1.2" fill="#ffffff"/><circle cx="353.8" cy="81.5" r="1.1" fill="#e04048"/><circle cx="375.4" cy="60.0" r="1.2" fill="#5aa0e8"/><circle cx="343.2" cy="76.7" r="1.1" fill="#ffffff"/><circle cx="392.5" cy="80.1" r="0.7" fill="#e04048"/><circle cx="347.0" cy="73.9" r="0.7" fill="#e04048"/><circle cx="356.8" cy="74.8" r="1.2" fill="#ffffff"/><circle cx="392.3" cy="74.8" r="0.9" fill="#5aa0e8"/><circle cx="358.0" cy="66.2" r="0.9" fill="#ffffff"/><circle cx="347.4" cy="92.5" r="0.9" fill="#ffffff"/><circle cx="374.1" cy="77.0" r="0.8" fill="#ffffff"/><circle cx="367.1" cy="77.7" r="0.9" fill="#5aa0e8"/><circle cx="360.3" cy="90.7" r="1.1" fill="#5aa0e8"/><rect x="341" y="53.5" width="0.1" height="0.1"/></g>
<circle cx="340.6" cy="56.0" r="0.9" fill="#d8404a"/><circle cx="340.6" cy="62.3" r="0.9" fill="#d8404a"/><circle cx="340.6" cy="68.6" r="0.9" fill="#d8404a"/><circle cx="340.6" cy="74.9" r="0.9" fill="#d8404a"/><circle cx="340.6" cy="81.2" r="0.9" fill="#d8404a"/><circle cx="340.6" cy="87.5" r="0.9" fill="#d8404a"/><circle cx="340.6" cy="93.8" r="0.9" fill="#d8404a"/><circle cx="340.6" cy="100.1" r="0.9" fill="#d8404a"/>
<circle cx="355" cy="54" r="1.4" fill="#6cc83c"/><circle cx="386" cy="54" r="1.4" fill="#6cc83c"/><circle cx="360" cy="74" r="1.2" fill="#6cc83c"/><circle cx="386" cy="74" r="1.2" fill="#6cc83c"/>
<circle cx="412.4" cy="65" r="1.7" fill="#fdf7c0" stroke="#ccc" stroke-width="0.2"/>
<text x="416.4" y="67.2" font-size="6.2" font-family="'Liberation Serif', 'Times New Roman', serif" font-weight="bold" text-anchor="start" fill="#111" stroke="#111" stroke-width="0.22" >V<tspan font-size="6">o</tspan></text>
<circle cx="412.4" cy="75" r="1.7" fill="#2f78cc" stroke="#ccc" stroke-width="0.2"/>
<text x="416.4" y="77.2" font-size="6.2" font-family="'Liberation Serif', 'Times New Roman', serif" font-weight="bold" text-anchor="start" fill="#111" stroke="#111" stroke-width="0.22" >Co</text>
<circle cx="412.4" cy="82.5" r="1.7" fill="#5ec23a" stroke="#ccc" stroke-width="0.2"/>
<text x="416.4" y="84.7" font-size="6.2" font-family="'Liberation Serif', 'Times New Roman', serif" font-weight="bold" text-anchor="start" fill="#111" stroke="#111" stroke-width="0.22" >Ni</text>
<circle cx="412.4" cy="90.5" r="1.7" fill="#e8543a" stroke="#ccc" stroke-width="0.2"/>
<text x="416.4" y="92.7" font-size="6.2" font-family="'Liberation Serif', 'Times New Roman', serif" font-weight="bold" text-anchor="start" fill="#111" stroke="#111" stroke-width="0.22" >O</text>
<text x="22" y="157.4" font-size="13" font-family="'Liberation Sans', Arial, sans-serif" font-weight="bold" text-anchor="start" fill="#1a1a1a" letter-spacing="0.9">(b)</text>
<rect x="46.4" y="155.3" width="385.7" height="182.4" fill="none" stroke="#2a2a2a" stroke-width="1.4"/>
<line x1="174.6" y1="155.3" x2="174.6" y2="338" stroke="#222" stroke-width="1.4" />
<line x1="303.6" y1="155.3" x2="303.6" y2="338" stroke="#222" stroke-width="1.4" />
<line x1="46.5" y1="338.2" x2="49.5" y2="338.2" stroke="#222" stroke-width="1.1" />
<text x="42.6" y="341.4" font-size="9.2" font-family="'Liberation Serif', 'Times New Roman', serif" font-weight="bold" text-anchor="end" fill="#111" stroke="#111" stroke-width="0.22" >-10</text>
<line x1="46.5" y1="329.0" x2="48.5" y2="329.0" stroke="#222" stroke-width="1.0" />
<line x1="46.5" y1="319.79999999999995" x2="49.5" y2="319.79999999999995" stroke="#222" stroke-width="1.1" />
<text x="42.6" y="322.99999999999994" font-size="9.2" font-family="'Liberation Serif', 'Times New Roman', serif" font-weight="bold" text-anchor="end" fill="#111" stroke="#111" stroke-width="0.22" >-8</text>
<line x1="46.5" y1="310.59999999999997" x2="48.5" y2="310.59999999999997" stroke="#222" stroke-width="1.0" />
<line x1="46.5" y1="301.4" x2="49.5" y2="301.4" stroke="#222" stroke-width="1.1" />
<text x="42.6" y="304.59999999999997" font-size="9.2" font-family="'Liberation Serif', 'Times New Roman', serif" font-weight="bold" text-anchor="end" fill="#111" stroke="#111" stroke-width="0.22" >-6</text>
<line x1="46.5" y1="292.2" x2="48.5" y2="292.2" stroke="#222" stroke-width="1.0" />
<line x1="46.5" y1="283.0" x2="49.5" y2="283.0" stroke="#222" stroke-width="1.1" />
<text x="42.6" y="286.2" font-size="9.2" font-family="'Liberation Serif', 'Times New Roman', serif" font-weight="bold" text-anchor="end" fill="#111" stroke="#111" stroke-width="0.22" >-4</text>
<line x1="46.5" y1="273.8" x2="48.5" y2="273.8" stroke="#222" stroke-width="1.0" />
<line x1="46.5" y1="264.59999999999997" x2="49.5" y2="264.59999999999997" stroke="#222" stroke-width="1.1" />
<text x="42.6" y="267.79999999999995" font-size="9.2" font-family="'Liberation Serif', 'Times New Roman', serif" font-weight="bold" text-anchor="end" fill="#111" stroke="#111" stroke-width="0.22" >-2</text>
<line x1="46.5" y1="255.39999999999998" x2="48.5" y2="255.39999999999998" stroke="#222" stroke-width="1.0" />
<line x1="46.5" y1="246.2" x2="49.5" y2="246.2" stroke="#222" stroke-width="1.1" />
<text x="42.6" y="249.39999999999998" font-size="9.2" font-family="'Liberation Serif', 'Times New Roman', serif" font-weight="bold" text-anchor="end" fill="#111" stroke="#111" stroke-width="0.22" >0</text>
<line x1="46.5" y1="237.0" x2="48.5" y2="237.0" stroke="#222" stroke-width="1.0" />
<line x1="46.5" y1="227.79999999999998" x2="49.5" y2="227.79999999999998" stroke="#222" stroke-width="1.1" />
<text x="42.6" y="230.99999999999997" font-size="9.2" font-family="'Liberation Serif', 'Times New Roman', serif" font-weight="bold" text-anchor="end" fill="#111" stroke="#111" stroke-width="0.22" >2</text>
<line x1="46.5" y1="218.6" x2="48.5" y2="218.6" stroke="#222" stroke-width="1.0" />
<line x1="46.5" y1="209.39999999999998" x2="49.5" y2="209.39999999999998" stroke="#222" stroke-width="1.1" />
<text x="42.6" y="212.59999999999997" font-size="9.2" font-family="'Liberation Serif', 'Times New Roman', serif" font-weight="bold" text-anchor="end" fill="#111" stroke="#111" stroke-width="0.22" >4</text>
<line x1="46.5" y1="200.2" x2="48.5" y2="200.2" stroke="#222" stroke-width="1.0" />
<line x1="46.5" y1="191.0" x2="49.5" y2="191.0" stroke="#222" stroke-width="1.1" />
<text x="42.6" y="194.2" font-size="9.2" font-family="'Liberation Serif', 'Times New Roman', serif" font-weight="bold" text-anchor="end" fill="#111" stroke="#111" stroke-width="0.22" >6</text>
<line x1="46.5" y1="181.8" x2="48.5" y2="181.8" stroke="#222" stroke-width="1.0" />
<line x1="46.5" y1="172.6" x2="49.5" y2="172.6" stroke="#222" stroke-width="1.1" />
<text x="42.6" y="175.79999999999998" font-size="9.2" font-family="'Liberation Serif', 'Times New Roman', serif" font-weight="bold" text-anchor="end" fill="#111" stroke="#111" stroke-width="0.22" >8</text>
<line x1="46.5" y1="163.39999999999998" x2="48.5" y2="163.39999999999998" stroke="#222" stroke-width="1.0" />
<text transform="translate(30.5,240) rotate(-90)" font-size="10.5" font-family="'Liberation Serif', 'Times New Roman', serif" font-weight="bold" text-anchor="middle" fill="#111" stroke="#111" stroke-width="0.22">Energy (eV)</text>
<text x="239.5" y="351" font-size="9.6" font-family="'Liberation Serif', 'Times New Roman', serif" font-weight="bold" text-anchor="middle" fill="#111" stroke="#111" stroke-width="0.22" >Density of States (a.u.)</text>
<line x1="47" y1="272.5" x2="174" y2="272.5" stroke="#666" stroke-width="0.9" stroke-dasharray="1,1.4"/>
<line x1="175.5" y1="274.5" x2="303" y2="274.5" stroke="#666" stroke-width="0.9" stroke-dasharray="1,1.4"/>
<line x1="304.5" y1="275.5" x2="432" y2="275.5" stroke="#666" stroke-width="0.9" stroke-dasharray="1,1.4"/>
<g clip-path="url(#cl1)"><path d="M109.2,212.0 L93.9,213.1 L96.0,214.2 L93.9,215.3 L100.2,216.4 L91.3,217.5 L92.4,218.6 L96.6,219.7 L99.0,220.8 L90.3,221.9 L100.7,223.0 L89.7,224.1 L99.2,225.2 L100.7,226.3 L96.7,227.4 L99.0,228.5 L99.1,229.6 L98.4,230.7 L91.3,231.8 L94.1,232.9 L88.9,234.0 L100.0,235.1 L92.9,236.2 L89.8,237.3 L91.4,238.4 L98.3,239.5 L104.1,240.6 L107.7,240.6 L103.2,239.5 L102.6,238.4 L104.3,237.3 L102.3,236.2 L105.0,235.1 L101.3,234.0 L106.0,232.9 L103.4,231.8 L107.1,230.7 L104.1,229.6 L105.7,228.5 L103.8,227.4 L105.7,226.3 L104.3,225.2 L104.6,224.1 L103.7,223.0 L107.1,221.9 L102.6,220.8 L102.2,219.7 L107.3,218.6 L104.3,217.5 L107.1,216.4 L101.8,215.3 L104.2,214.2 L106.0,213.1 L109.7,212.0Z" fill="#1c9be8" stroke="#1c9be8" stroke-width="0.4"/><path d="M107.7,247.5 L97.8,248.6 L84.9,249.7 L95.2,250.8 L107.2,251.9 L109.6,251.9 L103.5,250.8 L104.4,249.7 L106.0,248.6 L109.7,247.5Z" fill="#1c9be8" stroke="#1c9be8" stroke-width="0.4"/><path d="M106.9,252.0 L84.1,253.1 L81.4,254.2 L82.1,255.3 L90.4,256.4 L76.2,257.5 L104.4,257.5 L102.4,256.4 L107.1,255.3 L104.5,254.2 L102.6,253.1 L109.8,252.0Z" fill="#1c9be8" stroke="#1c9be8" stroke-width="0.4"/><path d="M108.5,258.5 L94.9,259.6 L88.0,260.7 L86.0,261.8 L93.2,262.9 L95.1,264.0 L106.8,264.0 L103.5,262.9 L107.1,261.8 L105.6,260.7 L104.0,259.6 L110.3,258.5Z" fill="#1c9be8" stroke="#1c9be8" stroke-width="0.4"/><path d="M110.1,265.0 L102.8,266.1 L103.2,267.2 L102.5,268.3 L103.0,269.4 L104.4,270.5 L106.7,271.6 L104.4,272.7 L104.7,273.8 L105.5,274.9 L104.6,276.0 L104.2,277.1 L106.8,278.2 L106.3,279.3 L102.7,280.4 L103.1,281.5 L106.0,282.6 L103.8,283.7 L106.8,284.8 L103.3,285.9 L106.5,287.0 L105.5,288.1 L106.3,289.2 L106.3,290.3 L103.6,291.4 L105.7,292.5 L106.8,293.6 L105.2,294.7 L106.5,295.8 L104.7,296.9 L104.2,298.0 L106.8,299.1 L106.4,300.2 L106.3,301.3 L103.8,302.4 L106.1,303.5 L103.1,304.6 L106.1,305.7 L105.3,306.8 L105.7,307.9 L106.7,309.0 L102.0,310.1 L105.7,311.2 L107.8,312.3 L109.1,312.3 L108.1,311.2 L108.0,310.1 L109.2,309.0 L108.5,307.9 L108.6,306.8 L108.5,305.7 L108.8,304.6 L107.8,303.5 L108.7,302.4 L108.4,301.3 L108.4,300.2 L109.8,299.1 L108.2,298.0 L109.4,296.9 L108.0,295.8 L109.4,294.7 L109.0,293.6 L108.9,292.5 L108.9,291.4 L109.3,290.3 L108.7,289.2 L109.7,288.1 L108.6,287.0 L109.3,285.9 L109.8,284.8 L109.6,283.7 L108.1,282.6 L108.2,281.5 L108.2,280.4 L108.6,279.3 L109.3,278.2 L108.9,277.1 L108.6,276.0 L109.1,274.9 L108.8,273.8 L109.4,272.7 L108.1,271.6 L108.9,270.5 L108.8,269.4 L108.3,268.3 L108.2,267.2 L109.9,266.1 L110.5,265.0Z" fill="#1c9be8" stroke="#1c9be8" stroke-width="0.4"/><path d="M110.8,213.0 L88.8,213.5 L110.8,214.1 M110.8,218.5 L85.8,219.0 L110.8,219.6 M110.8,223.5 L94.8,224.0 L110.8,224.6 M110.8,227.5 L86.8,228.0 L110.8,228.6 M110.8,235.0 L79.8,235.5 L110.8,236.1 M110.8,257.1 L57.8,257.6 L110.8,258.2 M110.8,253.5 L66.8,254.0 L110.8,254.6 M110.8,250.0 L78.8,250.5 L110.8,251.1 M110.8,260.5 L74.8,261.0 L110.8,261.6" fill="none" stroke="#1c9be8" stroke-width="1.1"/><path d="M109.9,213.0 L108.9,214.1 L105.6,215.2 L106.4,216.3 L106.7,217.4 L106.8,218.5 L107.5,219.6 L106.2,220.7 L105.1,221.8 L107.4,222.9 L108.7,224.0 L107.3,225.1 L107.7,226.2 L107.1,227.3 L108.2,228.4 L107.9,229.5 L107.1,230.6 L106.4,231.7 L105.3,232.8 L106.1,233.9 L106.0,235.0 L107.8,236.1 L105.0,237.2 L106.0,238.3 L109.1,239.4 L110.3,239.4 L109.6,238.3 L110.1,237.2 L109.3,236.1 L109.5,235.0 L109.4,233.9 L109.5,232.8 L110.1,231.7 L109.3,230.6 L110.2,229.5 L110.3,228.4 L109.7,227.3 L109.4,226.2 L110.0,225.1 L110.3,224.0 L110.0,222.9 L109.8,221.8 L109.3,220.7 L109.9,219.6 L110.1,218.5 L109.7,217.4 L110.0,216.3 L109.6,215.2 L110.3,214.1 L110.6,213.0Z" fill="#f6b878" stroke="#f6b878" stroke-width="0.4"/><path d="M109.6,248.0 L103.2,249.1 L103.7,250.2 L98.8,251.3 L102.0,252.4 L100.5,253.5 L104.7,254.6 L100.8,255.7 L98.7,256.8 L98.7,257.9 L98.2,259.0 L102.5,260.1 L101.2,261.2 L104.0,262.3 L102.5,263.4 L101.5,264.5 L99.6,265.6 L98.7,266.7 L100.3,267.8 L101.2,268.9 L104.6,270.0 L105.4,271.1 L99.3,272.2 L104.7,273.3 L103.2,274.4 L105.7,275.5 L105.0,276.6 L105.5,277.7 L105.7,278.8 L105.7,279.9 L99.7,281.0 L104.9,282.1 L103.5,283.2 L97.9,284.3 L105.7,285.4 L101.5,286.5 L105.3,287.6 L105.7,288.7 L100.1,289.8 L98.8,290.9 L99.2,292.0 L102.8,293.1 L101.1,294.2 L105.4,295.3 L99.1,296.4 L101.8,297.5 L102.4,298.6 L98.2,299.7 L101.6,300.8 L105.8,301.9 L105.2,303.0 L105.7,304.1 L105.4,305.2 L102.5,306.3 L98.5,307.4 L104.6,308.5 L104.5,309.6 L101.5,310.7 L100.7,311.8 L109.7,312.9 L110.4,312.9 L108.9,311.8 L107.5,310.7 L108.1,309.6 L108.4,308.5 L107.1,307.4 L107.1,306.3 L108.0,305.2 L109.1,304.1 L109.4,303.0 L108.2,301.9 L108.5,300.8 L108.9,299.7 L109.2,298.6 L108.6,297.5 L109.2,296.4 L108.4,295.3 L108.8,294.2 L109.0,293.1 L107.8,292.0 L107.7,290.9 L107.7,289.8 L108.4,288.7 L108.7,287.6 L107.7,286.5 L108.7,285.4 L109.2,284.3 L109.4,283.2 L107.8,282.1 L109.2,281.0 L108.9,279.9 L107.7,278.8 L107.2,277.7 L107.9,276.6 L108.6,275.5 L107.8,274.4 L107.3,273.3 L108.9,272.2 L108.2,271.1 L107.4,270.0 L108.9,268.9 L109.4,267.8 L109.1,266.7 L107.7,265.6 L109.4,264.5 L107.2,263.4 L109.0,262.3 L108.1,261.2 L108.3,260.1 L107.8,259.0 L108.8,257.9 L108.9,256.8 L109.1,255.7 L108.7,254.6 L108.3,253.5 L107.2,252.4 L108.4,251.3 L107.3,250.2 L107.7,249.1 L110.3,248.0Z" fill="#f6b878" stroke="#f6b878" stroke-width="0.4"/><path d="M110.8,283.2 L87.8,283.7 L110.8,284.3 M110.8,269.5 L94.8,270.0 L110.8,270.6 M110.8,299.5 L95.8,300.0 L110.8,300.6" fill="none" stroke="#f6b878" stroke-width="1.1"/><path d="M111.9,219.0 L118.8,220.1 L122.2,221.2 L116.8,222.3 L118.5,223.4 L126.7,224.5 L124.7,225.6 L122.4,226.7 L122.3,227.8 L121.1,228.9 L122.8,230.0 L120.5,231.1 L113.3,231.1 L112.5,230.0 L114.5,228.9 L114.9,227.8 L112.8,226.7 L113.7,225.6 L113.7,224.5 L113.0,223.4 L114.8,222.3 L112.5,221.2 L113.8,220.1 L111.3,219.0Z" fill="#1f5aa6" stroke="#1f5aa6" stroke-width="0.4"/><path d="M112.5,249.0 L126.0,250.1 L125.8,251.2 L125.8,252.3 L122.8,253.4 L123.3,254.5 L127.5,255.6 L120.9,256.7 L128.4,257.8 L124.9,258.9 L123.8,260.0 L122.5,261.1 L124.5,262.2 L125.5,263.3 L127.2,264.4 L125.4,265.5 L127.3,266.6 L127.8,267.7 L125.8,268.8 L127.0,269.9 L122.0,271.0 L127.2,272.1 L120.7,273.2 L123.0,274.3 L122.0,275.4 L127.4,276.5 L124.8,277.6 L125.8,278.7 L127.5,279.8 L123.8,280.9 L122.2,282.0 L124.7,283.1 L121.3,284.2 L124.8,285.3 L120.4,286.4 L122.2,287.5 L127.7,288.6 L123.4,289.7 L125.1,290.8 L124.3,291.9 L128.1,293.0 L123.1,294.1 L121.6,295.2 L128.6,296.3 L124.2,297.4 L123.0,298.5 L120.4,299.6 L125.0,300.7 L124.9,301.8 L125.4,302.9 L125.7,304.0 L120.4,305.1 L125.4,306.2 L121.7,307.3 L124.6,308.4 L122.6,309.5 L122.6,310.6 L122.1,311.7 L113.4,312.8 L111.2,312.8 L115.2,311.7 L116.3,310.6 L114.9,309.5 L114.9,308.4 L115.6,307.3 L118.1,306.2 L113.6,305.1 L117.0,304.0 L115.1,302.9 L115.6,301.8 L113.6,300.7 L116.4,299.6 L116.2,298.5 L113.4,297.4 L115.9,296.3 L114.8,295.2 L116.9,294.1 L115.8,293.0 L116.4,291.9 L116.3,290.8 L115.9,289.7 L115.2,288.6 L118.1,287.5 L117.5,286.4 L114.1,285.3 L115.3,284.2 L113.5,283.1 L113.7,282.0 L118.3,280.9 L118.2,279.8 L115.0,278.7 L113.5,277.6 L113.5,276.5 L117.1,275.4 L114.1,274.3 L117.3,273.2 L118.2,272.1 L113.6,271.0 L116.2,269.9 L114.4,268.8 L116.1,267.7 L118.1,266.6 L114.1,265.5 L118.3,264.4 L117.9,263.3 L117.8,262.2 L116.2,261.1 L115.2,260.0 L114.8,258.9 L115.5,257.8 L114.4,256.7 L113.8,255.6 L118.0,254.5 L117.3,253.4 L117.9,252.3 L117.7,251.2 L115.3,250.1 L111.2,249.0Z" fill="#1f5aa6" stroke="#1f5aa6" stroke-width="0.4"/><path d="M110.8,224.9 L148.8,225.4 L110.8,226.0 M110.8,225.7 L140.8,226.2 L110.8,226.8 M110.8,309.0 L161.8,309.5 L110.8,310.1 M110.8,221.5 L130.8,222.0 L110.8,222.6 M110.8,261.5 L132.8,262.0 L110.8,262.6 M110.8,289.5 L129.8,290.0 L110.8,290.6" fill="none" stroke="#1f5aa6" stroke-width="1.1"/><path d="M111.3,219.0 L114.6,220.1 L113.5,221.2 L118.2,222.3 L117.2,223.4 L115.7,224.5 L113.9,225.6 L114.0,226.7 L117.6,227.8 L117.4,228.9 L114.5,230.0 L115.4,231.1 L111.8,231.1 L111.9,230.0 L111.5,228.9 L112.1,227.8 L112.2,226.7 L111.4,225.6 L111.6,224.5 L111.5,223.4 L112.1,222.3 L111.7,221.2 L111.4,220.1 L110.9,219.0Z" fill="#ef8a2a" stroke="#ef8a2a" stroke-width="0.4"/><path d="M112.2,246.0 L117.6,247.1 L117.6,248.2 L117.4,249.3 L120.3,250.4 L117.8,251.5 L120.2,252.6 L120.0,253.7 L117.6,254.8 L118.1,255.9 L115.8,257.0 L119.5,258.1 L115.4,259.2 L116.4,260.3 L117.4,261.4 L120.8,262.5 L117.0,263.6 L118.3,264.7 L116.7,265.8 L116.6,266.9 L120.1,268.0 L115.4,269.1 L119.2,270.2 L116.1,271.3 L115.9,272.4 L115.4,273.5 L120.1,274.6 L119.0,275.7 L115.3,276.8 L120.6,277.9 L117.0,279.0 L118.3,280.1 L116.4,281.2 L117.2,282.3 L116.9,283.4 L116.6,284.5 L115.4,285.6 L119.3,286.7 L116.4,287.8 L120.7,288.9 L116.0,290.0 L115.4,291.1 L118.6,292.2 L115.4,293.3 L116.2,294.4 L115.7,295.5 L119.2,296.6 L120.7,297.7 L116.2,298.8 L115.4,299.9 L116.2,301.0 L119.6,302.1 L115.4,303.2 L116.2,304.3 L116.1,305.4 L115.7,306.5 L120.3,307.6 L120.7,308.7 L120.1,309.8 L119.4,310.9 L116.4,312.0 L111.7,312.0 L113.0,310.9 L112.9,309.8 L112.4,308.7 L112.7,307.6 L111.8,306.5 L113.3,305.4 L112.1,304.3 L112.2,303.2 L112.6,302.1 L113.3,301.0 L112.5,299.9 L112.4,298.8 L112.6,297.7 L112.4,296.6 L112.7,295.5 L113.5,294.4 L112.6,293.3 L112.0,292.2 L112.0,291.1 L111.8,290.0 L112.5,288.9 L111.9,287.8 L112.4,286.7 L112.0,285.6 L111.7,284.5 L113.4,283.4 L111.9,282.3 L112.0,281.2 L113.2,280.1 L113.4,279.0 L113.1,277.9 L112.2,276.8 L113.4,275.7 L113.4,274.6 L113.0,273.5 L112.5,272.4 L112.3,271.3 L112.8,270.2 L112.1,269.1 L111.9,268.0 L112.7,266.9 L113.0,265.8 L112.2,264.7 L112.1,263.6 L112.1,262.5 L112.3,261.4 L112.7,260.3 L112.8,259.2 L111.8,258.1 L112.2,257.0 L112.5,255.9 L112.4,254.8 L113.2,253.7 L112.7,252.6 L112.2,251.5 L113.3,250.4 L111.9,249.3 L112.0,248.2 L112.7,247.1 L111.0,246.0Z" fill="#ef8a2a" stroke="#ef8a2a" stroke-width="0.4"/><path d="M110.8,245.9 L123.8,246.4 L110.8,247.0 M110.8,222.5 L123.3,223.0 L110.8,223.6" fill="none" stroke="#ef8a2a" stroke-width="1.1"/><line x1="110.8" y1="155" x2="110.8" y2="338" stroke="#f5a862" stroke-width="1.0"/></g>
<g clip-path="url(#cl2)"><path d="M236.8,213.0 L221.3,214.1 L225.6,215.2 L229.3,216.3 L224.0,217.4 L230.0,218.5 L230.1,219.6 L223.1,220.7 L218.9,221.8 L223.7,222.9 L229.5,224.0 L225.4,225.1 L229.2,226.2 L230.5,227.3 L226.5,228.4 L225.5,229.5 L225.7,230.6 L226.3,231.7 L218.6,232.8 L221.0,233.9 L227.9,235.0 L228.2,236.1 L222.1,237.2 L220.9,238.3 L219.3,239.4 L230.6,240.5 L232.4,241.6 L236.7,241.6 L234.3,240.5 L230.5,239.4 L233.3,238.3 L233.2,237.2 L235.2,236.1 L234.2,235.0 L231.4,233.9 L229.6,232.8 L233.9,231.7 L231.6,230.6 L231.8,229.5 L230.5,228.4 L232.9,227.3 L234.1,226.2 L235.2,225.1 L235.5,224.0 L231.9,222.9 L229.8,221.8 L235.3,220.7 L232.6,219.6 L233.8,218.5 L230.8,217.4 L232.5,216.3 L232.1,215.2 L233.3,214.1 L237.6,213.0Z" fill="#1c9be8" stroke="#1c9be8" stroke-width="0.4"/><path d="M234.2,247.0 L225.3,248.1 L213.0,249.2 L223.9,250.3 L224.0,251.4 L234.2,251.4 L232.8,250.3 L233.2,249.2 L231.4,248.1 L237.7,247.0Z" fill="#1c9be8" stroke="#1c9be8" stroke-width="0.4"/><path d="M235.4,252.0 L219.1,253.1 L200.7,254.2 L207.3,255.3 L215.8,256.4 L229.6,257.5 L235.3,257.5 L230.0,256.4 L232.0,255.3 L233.9,254.2 L235.0,253.1 L237.8,252.0Z" fill="#1c9be8" stroke="#1c9be8" stroke-width="0.4"/><path d="M237.0,258.0 L227.7,259.1 L215.1,260.2 L225.6,261.3 L226.8,262.4 L217.2,263.5 L227.9,264.6 L226.7,265.7 L218.6,266.8 L236.7,267.9 L238.2,267.9 L234.5,266.8 L234.8,265.7 L231.2,264.6 L232.9,263.5 L234.1,262.4 L231.7,261.3 L232.1,260.2 L235.1,259.1 L237.9,258.0Z" fill="#1c9be8" stroke="#1c9be8" stroke-width="0.4"/><path d="M238.1,268.0 L235.3,269.1 L234.5,270.2 L231.8,271.3 L233.7,272.4 L235.2,273.5 L232.1,274.6 L234.9,275.7 L232.9,276.8 L235.1,277.9 L232.2,279.0 L234.3,280.1 L235.5,281.2 L235.0,282.3 L234.9,283.4 L233.6,284.5 L235.2,285.6 L235.5,286.7 L233.7,287.8 L233.5,288.9 L232.0,290.0 L235.6,291.1 L234.2,292.2 L235.2,293.3 L233.7,294.4 L234.5,295.5 L231.7,296.6 L233.1,297.7 L235.3,298.8 L235.6,299.9 L233.1,301.0 L235.6,302.1 L234.1,303.2 L234.7,304.3 L235.5,305.4 L232.9,306.5 L232.9,307.6 L232.6,308.7 L234.6,309.8 L232.1,310.9 L234.3,312.0 L233.9,313.1 L237.4,313.1 L236.7,312.0 L236.5,310.9 L236.8,309.8 L236.5,308.7 L236.8,307.6 L236.5,306.5 L237.0,305.4 L236.4,304.3 L236.8,303.2 L236.9,302.1 L236.4,301.0 L236.5,299.9 L237.8,298.8 L237.0,297.7 L236.9,296.6 L236.5,295.5 L237.7,294.4 L237.3,293.3 L237.8,292.2 L237.4,291.1 L237.5,290.0 L237.4,288.9 L236.6,287.8 L237.5,286.7 L236.8,285.6 L237.4,284.5 L236.6,283.4 L236.8,282.3 L236.5,281.2 L237.7,280.1 L236.9,279.0 L236.4,277.9 L236.4,276.8 L237.6,275.7 L236.6,274.6 L237.6,273.5 L236.6,272.4 L237.1,271.3 L237.2,270.2 L237.1,269.1 L238.4,268.0Z" fill="#1c9be8" stroke="#1c9be8" stroke-width="0.4"/><path d="M238.6,214.5 L218.6,215.0 L238.6,215.6 M238.6,220.5 L216.6,221.0 L238.6,221.6 M238.6,227.5 L215.2,228.0 L238.6,228.6 M238.6,236.5 L218.6,237.0 L238.6,237.6 M238.6,258.0 L179.6,258.5 L238.6,259.1 M238.6,254.2 L194.6,254.7 L238.6,255.3 M238.6,250.5 L205.6,251.0 L238.6,251.6 M238.6,264.2 L214.6,264.7 L238.6,265.3" fill="none" stroke="#1c9be8" stroke-width="1.1"/><path d="M238.1,213.0 L234.6,214.1 L236.6,215.2 L235.9,216.3 L234.1,217.4 L234.7,218.5 L236.3,219.6 L236.2,220.7 L236.5,221.8 L236.5,222.9 L235.6,224.0 L233.4,225.1 L236.5,226.2 L234.9,227.3 L232.7,228.4 L236.4,229.5 L236.3,230.6 L234.4,231.7 L234.1,232.8 L236.2,233.9 L235.4,235.0 L234.6,236.1 L235.4,237.2 L234.0,238.3 L232.7,239.4 L235.6,240.5 L237.1,241.6 L238.2,241.6 L237.7,240.5 L237.4,239.4 L237.1,238.3 L238.1,237.2 L237.6,236.1 L237.7,235.0 L237.3,233.9 L238.0,232.8 L237.9,231.7 L237.8,230.6 L237.7,229.5 L237.2,228.4 L238.0,227.3 L237.2,226.2 L238.1,225.1 L237.7,224.0 L237.4,222.9 L237.3,221.8 L237.2,220.7 L237.7,219.6 L237.4,218.5 L237.5,217.4 L237.3,216.3 L237.7,215.2 L238.0,214.1 L238.4,213.0Z" fill="#f6b878" stroke="#f6b878" stroke-width="0.4"/><path d="M237.8,249.0 L231.9,250.1 L227.1,251.2 L233.5,252.3 L230.8,253.4 L232.4,254.5 L231.1,255.6 L233.2,256.7 L232.7,257.8 L233.5,258.9 L231.5,260.0 L233.4,261.1 L232.5,262.2 L230.4,263.3 L230.3,264.4 L232.8,265.5 L231.3,266.6 L227.8,267.7 L233.6,268.8 L227.5,269.9 L232.3,271.0 L233.5,272.1 L225.3,273.2 L230.1,274.3 L231.6,275.4 L226.9,276.5 L232.3,277.6 L230.3,278.7 L232.1,279.8 L226.2,280.9 L231.9,282.0 L232.0,283.1 L230.0,284.2 L228.2,285.3 L231.9,286.4 L228.4,287.5 L233.0,288.6 L230.8,289.7 L230.7,290.8 L229.6,291.9 L226.0,293.0 L227.6,294.1 L229.3,295.2 L227.4,296.3 L231.4,297.4 L227.9,298.5 L233.6,299.6 L226.1,300.7 L226.2,301.8 L229.8,302.9 L231.2,304.0 L231.4,305.1 L225.8,306.2 L229.8,307.3 L233.0,308.4 L228.2,309.5 L232.2,310.6 L231.6,311.7 L232.9,312.8 L232.3,313.9 L237.0,315.0 L238.2,315.0 L235.9,313.9 L237.1,312.8 L235.6,311.7 L236.3,310.6 L236.4,309.5 L236.0,308.4 L235.8,307.3 L235.6,306.2 L236.6,305.1 L237.1,304.0 L235.4,302.9 L235.1,301.8 L235.4,300.7 L235.6,299.6 L235.9,298.5 L236.4,297.4 L235.9,296.3 L235.1,295.2 L236.3,294.1 L234.9,293.0 L235.8,291.9 L234.9,290.8 L236.7,289.7 L235.1,288.6 L235.6,287.5 L236.7,286.4 L236.8,285.3 L235.6,284.2 L235.0,283.1 L235.2,282.0 L236.9,280.9 L235.0,279.8 L235.8,278.7 L236.0,277.6 L235.8,276.5 L235.4,275.4 L237.3,274.3 L234.9,273.2 L235.8,272.1 L237.3,271.0 L236.5,269.9 L236.7,268.8 L235.1,267.7 L236.9,266.6 L235.0,265.5 L235.0,264.4 L235.0,263.3 L236.6,262.2 L236.2,261.1 L235.8,260.0 L236.7,258.9 L235.6,257.8 L236.0,256.7 L235.4,255.6 L236.3,254.5 L236.1,253.4 L235.3,252.3 L236.1,251.2 L236.3,250.1 L238.3,249.0Z" fill="#f6b878" stroke="#f6b878" stroke-width="0.4"/><path d="M238.6,274.5 L222.6,275.0 L238.6,275.6 M238.6,289.5 L223.6,290.0 L238.6,290.6" fill="none" stroke="#f6b878" stroke-width="1.1"/><path d="M239.7,220.0 L248.6,221.1 L245.5,222.2 L245.3,223.3 L250.0,224.4 L248.1,225.5 L246.2,226.6 L251.0,227.7 L244.6,228.8 L245.3,229.9 L248.7,231.0 L241.9,231.0 L242.7,229.9 L240.9,228.8 L241.9,227.7 L241.4,226.6 L240.7,225.5 L240.5,224.4 L240.8,223.3 L240.8,222.2 L242.3,221.1 L239.1,220.0Z" fill="#1f5aa6" stroke="#1f5aa6" stroke-width="0.4"/><path d="M240.9,248.0 L253.7,249.1 L249.0,250.2 L250.7,251.3 L251.4,252.4 L249.8,253.5 L249.4,254.6 L253.8,255.7 L255.5,256.8 L251.3,257.9 L248.2,259.0 L250.4,260.1 L248.6,261.2 L248.9,262.3 L251.8,263.4 L248.2,264.5 L248.8,265.6 L248.6,266.7 L247.9,267.8 L255.1,268.9 L252.8,270.0 L247.7,271.1 L253.6,272.2 L252.1,273.3 L250.1,274.4 L254.4,275.5 L248.6,276.6 L249.8,277.7 L248.2,278.8 L251.7,279.9 L248.7,281.0 L251.5,282.1 L249.7,283.2 L249.6,284.3 L248.4,285.4 L248.1,286.5 L247.8,287.6 L251.3,288.7 L247.7,289.8 L249.6,290.9 L247.6,292.0 L248.1,293.1 L249.1,294.2 L247.9,295.3 L249.8,296.4 L247.6,297.5 L250.8,298.6 L251.0,299.7 L252.3,300.8 L247.7,301.9 L254.7,303.0 L249.0,304.1 L254.1,305.2 L251.6,306.3 L248.9,307.4 L248.6,308.5 L247.7,309.6 L247.9,310.7 L251.7,311.8 L240.8,312.9 L239.1,312.9 L241.1,311.8 L244.9,310.7 L243.1,309.6 L242.9,308.5 L242.5,307.4 L242.9,306.3 L242.4,305.2 L244.5,304.1 L244.8,303.0 L243.6,301.9 L242.6,300.8 L243.5,299.7 L245.9,298.6 L242.8,297.5 L245.3,296.4 L243.4,295.3 L244.1,294.2 L242.6,293.1 L244.9,292.0 L241.6,290.9 L243.3,289.8 L243.8,288.7 L244.3,287.6 L242.2,286.5 L244.5,285.4 L242.6,284.3 L244.7,283.2 L244.1,282.1 L244.2,281.0 L244.7,279.9 L245.3,278.8 L244.7,277.7 L245.4,276.6 L245.1,275.5 L245.4,274.4 L241.9,273.3 L245.3,272.2 L241.8,271.1 L245.8,270.0 L243.0,268.9 L244.4,267.8 L242.9,266.7 L242.3,265.6 L243.6,264.5 L243.1,263.4 L243.4,262.3 L243.7,261.2 L242.0,260.1 L244.5,259.0 L244.8,257.9 L244.6,256.8 L245.1,255.7 L241.7,254.6 L243.2,253.5 L243.2,252.4 L244.9,251.3 L245.3,250.2 L244.5,249.1 L239.5,248.0Z" fill="#1f5aa6" stroke="#1f5aa6" stroke-width="0.4"/><path d="M238.6,224.5 L256.6,225.0 L238.6,225.6 M238.6,226.5 L255.6,227.0 L238.6,227.6 M238.6,301.1 L259.6,301.6 L238.6,302.2 M238.6,261.5 L254.6,262.0 L238.6,262.6" fill="none" stroke="#1f5aa6" stroke-width="1.1"/><path d="M238.9,220.0 L242.5,221.1 L241.3,222.2 L243.3,223.3 L241.4,224.4 L241.8,225.5 L240.8,226.6 L244.1,227.7 L241.3,228.8 L242.8,229.9 L241.8,231.0 L239.6,231.0 L239.2,229.9 L239.9,228.8 L239.5,227.7 L239.3,226.6 L239.9,225.5 L239.8,224.4 L239.8,223.3 L239.4,222.2 L239.9,221.1 L238.8,220.0Z" fill="#ef8a2a" stroke="#ef8a2a" stroke-width="0.4"/><path d="M239.3,245.0 L242.6,246.1 L242.8,247.2 L247.5,248.3 L247.5,249.4 L245.2,250.5 L245.7,251.6 L245.1,252.7 L243.1,253.8 L246.8,254.9 L243.2,256.0 L243.3,257.1 L244.6,258.2 L246.5,259.3 L243.6,260.4 L246.0,261.5 L244.8,262.6 L244.5,263.7 L244.8,264.8 L244.6,265.9 L245.1,267.0 L244.5,268.1 L246.7,269.2 L242.7,270.3 L245.8,271.4 L242.6,272.5 L247.2,273.6 L243.9,274.7 L247.2,275.8 L243.7,276.9 L245.3,278.0 L243.5,279.1 L242.7,280.2 L247.5,281.3 L243.6,282.4 L243.9,283.5 L242.7,284.6 L243.2,285.7 L246.8,286.8 L243.4,287.9 L247.1,289.0 L246.1,290.1 L245.0,291.2 L247.2,292.3 L244.7,293.4 L244.0,294.5 L247.3,295.6 L246.2,296.7 L247.1,297.8 L243.4,298.9 L244.5,300.0 L243.5,301.1 L243.2,302.2 L243.0,303.3 L244.4,304.4 L244.0,305.5 L243.5,306.6 L244.2,307.7 L243.3,308.8 L245.9,309.9 L245.6,311.0 L245.4,312.1 L242.1,313.2 L240.3,313.2 L240.7,312.1 L239.9,311.0 L239.8,309.9 L239.8,308.8 L239.7,307.7 L240.2,306.6 L240.9,305.5 L240.5,304.4 L240.0,303.3 L240.7,302.2 L239.7,301.1 L240.1,300.0 L241.2,298.9 L240.6,297.8 L240.1,296.7 L240.5,295.6 L240.2,294.5 L241.0,293.4 L240.9,292.3 L240.6,291.2 L240.2,290.1 L240.0,289.0 L240.6,287.9 L240.0,286.8 L239.9,285.7 L239.8,284.6 L240.0,283.5 L241.2,282.4 L240.6,281.3 L240.1,280.2 L240.2,279.1 L240.3,278.0 L239.8,276.9 L240.0,275.8 L240.5,274.7 L240.3,273.6 L240.8,272.5 L240.5,271.4 L239.8,270.3 L241.2,269.2 L239.9,268.1 L239.7,267.0 L240.3,265.9 L240.3,264.8 L240.7,263.7 L239.7,262.6 L239.7,261.5 L239.6,260.4 L239.7,259.3 L239.7,258.2 L240.9,257.1 L240.3,256.0 L240.4,254.9 L239.7,253.8 L240.6,252.7 L239.7,251.6 L241.1,250.5 L240.3,249.4 L240.2,248.3 L239.9,247.2 L240.0,246.1 L238.9,245.0Z" fill="#ef8a2a" stroke="#ef8a2a" stroke-width="0.4"/><path d="M238.6,246.5 L253.6,247.0 L238.6,247.6 M238.6,223.5 L244.6,224.0 L238.6,224.6" fill="none" stroke="#ef8a2a" stroke-width="1.1"/><line x1="238.6" y1="155" x2="238.6" y2="338" stroke="#f5a862" stroke-width="1.0"/></g>
<g clip-path="url(#cl3)"><path d="M365.9,213.5 L352.9,214.6 L357.4,215.7 L348.7,216.8 L353.5,217.9 L359.3,219.0 L352.3,220.1 L348.9,221.2 L357.2,222.3 L345.3,223.4 L347.5,224.5 L359.1,225.6 L353.7,226.7 L346.2,227.8 L358.1,228.9 L358.4,230.0 L354.3,231.1 L355.8,232.2 L357.7,233.3 L347.7,234.4 L349.2,235.5 L345.9,236.6 L349.6,237.7 L352.4,238.8 L358.4,239.9 L359.4,241.0 L365.8,241.0 L362.4,239.9 L361.2,238.8 L361.0,237.7 L360.3,236.6 L363.8,235.5 L363.6,234.4 L364.6,233.3 L362.4,232.2 L362.0,231.1 L361.0,230.0 L360.8,228.9 L363.0,227.8 L364.2,226.7 L363.2,225.6 L361.7,224.5 L361.1,223.4 L364.6,222.3 L363.6,221.2 L364.5,220.1 L362.9,219.0 L363.6,217.9 L362.2,216.8 L360.8,215.7 L362.8,214.6 L366.4,213.5Z" fill="#1c9be8" stroke="#1c9be8" stroke-width="0.4"/><path d="M362.2,248.0 L346.9,249.1 L344.2,250.2 L346.4,251.3 L363.2,251.3 L360.2,250.2 L361.0,249.1 L365.6,248.0Z" fill="#1c9be8" stroke="#1c9be8" stroke-width="0.4"/><path d="M364.3,252.0 L334.7,253.1 L337.7,254.2 L336.3,255.3 L343.9,256.4 L354.3,257.5 L363.6,257.5 L358.4,256.4 L357.3,255.3 L359.4,254.2 L356.4,253.1 L366.6,252.0Z" fill="#1c9be8" stroke="#1c9be8" stroke-width="0.4"/><path d="M365.5,258.0 L353.9,259.1 L352.8,260.2 L353.4,261.3 L356.8,262.4 L344.3,263.5 L346.3,264.6 L360.9,265.7 L365.5,265.7 L361.4,264.6 L362.9,263.5 L360.7,262.4 L364.3,261.3 L361.8,260.2 L360.8,259.1 L366.8,258.0Z" fill="#1c9be8" stroke="#1c9be8" stroke-width="0.4"/><path d="M366.6,266.0 L360.2,267.1 L360.0,268.2 L362.9,269.3 L360.1,270.4 L364.1,271.5 L360.7,272.6 L360.3,273.7 L363.4,274.8 L362.7,275.9 L364.1,277.0 L359.9,278.1 L360.9,279.2 L363.5,280.3 L362.1,281.4 L364.3,282.5 L360.3,283.6 L360.1,284.7 L362.7,285.8 L360.3,286.9 L362.1,288.0 L360.8,289.1 L361.2,290.2 L364.3,291.3 L361.5,292.4 L361.8,293.5 L362.8,294.6 L359.9,295.7 L364.1,296.8 L364.3,297.9 L363.9,299.0 L361.4,300.1 L362.1,301.2 L362.3,302.3 L363.8,303.4 L362.9,304.5 L362.0,305.6 L361.1,306.7 L360.7,307.8 L364.3,308.9 L364.2,310.0 L363.8,311.1 L363.5,312.2 L363.2,313.3 L365.1,314.4 L366.7,314.4 L366.5,313.3 L365.5,312.2 L365.5,311.1 L365.4,310.0 L365.9,308.9 L365.4,307.8 L365.2,306.7 L366.5,305.6 L365.5,304.5 L366.3,303.4 L366.2,302.3 L366.1,301.2 L366.4,300.1 L365.2,299.0 L365.9,297.9 L366.4,296.8 L366.3,295.7 L365.1,294.6 L366.2,293.5 L365.3,292.4 L365.7,291.3 L365.1,290.2 L366.5,289.1 L366.1,288.0 L366.1,286.9 L365.7,285.8 L365.6,284.7 L365.4,283.6 L366.2,282.5 L365.5,281.4 L365.1,280.3 L365.8,279.2 L365.1,278.1 L366.0,277.0 L366.3,275.9 L366.1,274.8 L366.5,273.7 L365.8,272.6 L365.3,271.5 L366.3,270.4 L366.2,269.3 L365.8,268.2 L365.8,267.1 L367.0,266.0Z" fill="#1c9be8" stroke="#1c9be8" stroke-width="0.4"/><path d="M367.3,214.5 L345.3,215.0 L367.3,215.6 M367.3,218.5 L343.3,219.0 L367.3,219.6 M367.3,224.0 L340.8,224.5 L367.3,225.1 M367.3,229.5 L345.3,230.0 L367.3,230.6 M367.3,237.5 L347.3,238.0 L367.3,238.6 M367.3,257.9 L311.3,258.4 L367.3,259.0 M367.3,249.8 L326.3,250.3 L367.3,250.9 M367.3,254.5 L323.3,255.0 L367.3,255.6 M367.3,261.5 L335.3,262.0 L367.3,262.6" fill="none" stroke="#1c9be8" stroke-width="1.1"/><path d="M366.1,213.5 L365.4,214.6 L364.6,215.7 L361.9,216.8 L360.1,217.9 L359.6,219.0 L362.2,220.1 L361.6,221.2 L361.5,222.3 L360.2,223.4 L364.0,224.5 L360.4,225.6 L359.8,226.7 L359.6,227.8 L361.5,228.9 L364.3,230.0 L364.0,231.1 L359.7,232.2 L364.8,233.3 L361.8,234.4 L365.2,235.5 L365.2,236.6 L362.8,237.7 L363.4,238.8 L359.9,239.9 L365.8,241.0 L366.8,241.0 L366.5,239.9 L366.1,238.8 L366.3,237.7 L365.9,236.6 L366.3,235.5 L366.6,234.4 L366.0,233.3 L366.1,232.2 L366.0,231.1 L365.8,230.0 L366.2,228.9 L366.2,227.8 L366.0,226.7 L366.2,225.6 L366.6,224.5 L366.2,223.4 L366.8,222.3 L365.9,221.2 L365.9,220.1 L366.5,219.0 L366.6,217.9 L366.5,216.8 L366.7,215.7 L366.0,214.6 L367.2,213.5Z" fill="#f6b878" stroke="#f6b878" stroke-width="0.4"/><path d="M366.0,250.0 L356.8,251.1 L354.1,252.2 L360.8,253.3 L358.2,254.4 L357.6,255.5 L350.0,256.6 L357.6,257.7 L350.9,258.8 L355.8,259.9 L358.5,261.0 L359.9,262.1 L356.0,263.2 L354.5,264.3 L353.8,265.4 L357.5,266.5 L350.5,267.6 L351.6,268.7 L356.1,269.8 L349.4,270.9 L356.8,272.0 L354.5,273.1 L352.6,274.2 L355.0,275.3 L361.2,276.4 L354.7,277.5 L360.1,278.6 L357.2,279.7 L361.1,280.8 L358.2,281.9 L359.7,283.0 L351.3,284.1 L359.0,285.2 L356.8,286.3 L358.3,287.4 L350.5,288.5 L361.1,289.6 L351.6,290.7 L359.8,291.8 L357.9,292.9 L353.5,294.0 L359.3,295.1 L359.2,296.2 L354.2,297.3 L351.0,298.4 L361.0,299.5 L355.1,300.6 L356.6,301.7 L352.8,302.8 L354.7,303.9 L351.6,305.0 L356.0,306.1 L358.3,307.2 L352.1,308.3 L357.9,309.4 L360.1,310.5 L350.9,311.6 L358.1,312.7 L356.3,313.8 L366.1,314.9 L367.0,314.9 L365.2,313.8 L363.3,312.7 L364.1,311.6 L363.4,310.5 L363.9,309.4 L365.8,308.3 L363.2,307.2 L365.4,306.1 L365.1,305.0 L362.8,303.9 L365.8,302.8 L365.7,301.7 L365.7,300.6 L364.3,299.5 L363.9,298.4 L365.3,297.3 L365.6,296.2 L365.1,295.1 L364.4,294.0 L363.5,292.9 L364.3,291.8 L365.7,290.7 L364.7,289.6 L363.3,288.5 L363.6,287.4 L365.2,286.3 L365.5,285.2 L365.3,284.1 L365.0,283.0 L365.4,281.9 L363.0,280.8 L365.0,279.7 L363.7,278.6 L364.8,277.5 L364.3,276.4 L363.0,275.3 L363.3,274.2 L364.7,273.1 L363.6,272.0 L363.6,270.9 L364.0,269.8 L364.3,268.7 L364.4,267.6 L363.3,266.5 L365.6,265.4 L365.2,264.3 L363.4,263.2 L365.7,262.1 L364.7,261.0 L364.8,259.9 L365.3,258.8 L365.5,257.7 L364.3,256.6 L363.0,255.5 L364.5,254.4 L362.8,253.3 L364.2,252.2 L364.7,251.1 L366.8,250.0Z" fill="#f6b878" stroke="#f6b878" stroke-width="0.4"/><path d="M367.3,300.2 L337.3,300.7 L367.3,301.3 M367.3,280.5 L343.3,281.0 L367.3,281.6 M367.3,291.5 L347.3,292.0 L367.3,292.6" fill="none" stroke="#f6b878" stroke-width="1.1"/><path d="M369.6,219.0 L380.8,220.1 L378.9,221.2 L378.2,222.3 L375.4,223.4 L375.6,224.5 L374.4,225.6 L380.1,226.7 L378.1,227.8 L376.7,228.9 L380.8,230.0 L376.5,231.1 L370.7,231.1 L371.7,230.0 L369.5,228.9 L372.2,227.8 L371.0,226.7 L369.6,225.6 L371.1,224.5 L371.1,223.4 L369.8,222.3 L371.0,221.2 L369.4,220.1 L368.2,219.0Z" fill="#1f5aa6" stroke="#1f5aa6" stroke-width="0.4"/><path d="M370.0,250.0 L381.6,251.1 L381.2,252.2 L379.1,253.3 L380.3,254.4 L381.3,255.5 L381.8,256.6 L378.2,257.7 L383.4,258.8 L377.8,259.9 L377.4,261.0 L381.2,262.1 L379.2,263.2 L378.9,264.3 L383.1,265.4 L378.7,266.5 L383.1,267.6 L383.6,268.7 L380.9,269.8 L381.4,270.9 L378.1,272.0 L377.5,273.1 L377.4,274.2 L382.2,275.3 L383.3,276.4 L380.9,277.5 L382.8,278.6 L385.0,279.7 L378.2,280.8 L380.3,281.9 L384.6,283.0 L378.4,284.1 L380.8,285.2 L380.9,286.3 L378.6,287.4 L384.3,288.5 L379.3,289.6 L383.4,290.7 L382.2,291.8 L382.3,292.9 L381.8,294.0 L378.9,295.1 L383.0,296.2 L381.0,297.3 L377.7,298.4 L379.2,299.5 L383.6,300.6 L384.8,301.7 L381.1,302.8 L378.5,303.9 L380.3,305.0 L382.5,306.1 L379.6,307.2 L377.9,308.3 L378.3,309.4 L378.1,310.5 L379.9,311.6 L382.3,312.7 L369.8,313.8 L368.2,313.8 L372.2,312.7 L370.2,311.6 L372.0,310.5 L373.2,309.4 L374.1,308.3 L373.7,307.2 L369.8,306.1 L372.0,305.0 L372.6,303.9 L372.5,302.8 L370.2,301.7 L371.0,300.6 L372.6,299.5 L373.0,298.4 L373.9,297.3 L372.6,296.2 L371.8,295.1 L371.0,294.0 L373.9,292.9 L371.9,291.8 L374.3,290.7 L374.3,289.6 L372.0,288.5 L371.9,287.4 L373.9,286.3 L370.6,285.2 L370.3,284.1 L374.6,283.0 L370.8,281.9 L370.2,280.8 L371.7,279.7 L371.5,278.6 L374.7,277.5 L374.5,276.4 L374.7,275.3 L373.8,274.2 L371.9,273.1 L374.7,272.0 L374.5,270.9 L374.4,269.8 L371.0,268.7 L373.3,267.6 L370.3,266.5 L372.5,265.4 L371.3,264.3 L371.6,263.2 L373.9,262.1 L371.2,261.0 L370.3,259.9 L370.8,258.8 L371.4,257.7 L370.7,256.6 L372.0,255.5 L373.4,254.4 L370.2,253.3 L373.1,252.2 L371.3,251.1 L367.9,250.0Z" fill="#1f5aa6" stroke="#1f5aa6" stroke-width="0.4"/><path d="M367.3,224.0 L388.3,224.5 L367.3,225.1 M367.3,227.5 L385.3,228.0 L367.3,228.6 M367.3,308.8 L399.3,309.3 L367.3,309.9 M367.3,305.5 L389.3,306.0 L367.3,306.6" fill="none" stroke="#1f5aa6" stroke-width="1.1"/><path d="M368.2,219.0 L370.1,220.1 L370.5,221.2 L370.0,222.3 L370.3,223.4 L373.4,224.5 L371.7,225.6 L375.2,226.7 L372.1,227.8 L373.5,228.9 L371.0,230.0 L369.3,231.1 L368.2,231.1 L368.8,230.0 L368.2,228.9 L368.8,227.8 L367.9,226.7 L368.7,225.6 L368.6,224.5 L368.5,223.4 L368.6,222.3 L368.5,221.2 L368.7,220.1 L367.5,219.0Z" fill="#ef8a2a" stroke="#ef8a2a" stroke-width="0.4"/><path d="M368.6,248.0 L372.6,249.1 L374.3,250.2 L376.6,251.3 L373.0,252.4 L372.0,253.5 L375.0,254.6 L376.0,255.7 L376.3,256.8 L375.5,257.9 L372.1,259.0 L372.3,260.1 L373.9,261.2 L377.1,262.3 L374.1,263.4 L375.7,264.5 L372.7,265.6 L372.8,266.7 L374.9,267.8 L375.9,268.9 L373.9,270.0 L372.7,271.1 L374.5,272.2 L376.4,273.3 L373.3,274.4 L373.8,275.5 L373.7,276.6 L371.9,277.7 L375.3,278.8 L374.3,279.9 L373.5,281.0 L372.6,282.1 L372.9,283.2 L376.6,284.3 L374.9,285.4 L372.8,286.5 L375.2,287.6 L374.8,288.7 L372.8,289.8 L375.7,290.9 L375.4,292.0 L371.8,293.1 L372.0,294.2 L376.2,295.3 L376.6,296.4 L373.7,297.5 L371.9,298.6 L371.9,299.7 L374.4,300.8 L371.9,301.9 L375.9,303.0 L372.4,304.1 L374.1,305.2 L375.9,306.3 L375.3,307.4 L375.0,308.5 L374.9,309.6 L377.2,310.7 L376.1,311.8 L372.4,312.9 L371.4,314.0 L369.7,314.0 L368.6,312.9 L369.0,311.8 L370.0,310.7 L369.1,309.6 L369.2,308.5 L368.8,307.4 L369.3,306.3 L368.5,305.2 L368.6,304.1 L368.5,303.0 L370.1,301.9 L369.7,300.8 L370.2,299.7 L369.9,298.6 L368.7,297.5 L368.7,296.4 L369.4,295.3 L369.9,294.2 L369.2,293.1 L369.1,292.0 L368.9,290.9 L369.1,289.8 L370.1,288.7 L369.1,287.6 L369.4,286.5 L368.3,285.4 L369.9,284.3 L369.0,283.2 L368.9,282.1 L369.1,281.0 L369.5,279.9 L369.9,278.8 L370.3,277.7 L369.8,276.6 L368.9,275.5 L368.4,274.4 L368.8,273.3 L369.2,272.2 L368.7,271.1 L370.0,270.0 L369.1,268.9 L369.1,267.8 L369.6,266.7 L369.6,265.6 L369.4,264.5 L370.3,263.4 L368.6,262.3 L369.6,261.2 L368.6,260.1 L369.3,259.0 L370.1,257.9 L368.8,256.8 L370.3,255.7 L369.9,254.6 L368.5,253.5 L370.1,252.4 L370.1,251.3 L369.0,250.2 L368.8,249.1 L367.5,248.0Z" fill="#ef8a2a" stroke="#ef8a2a" stroke-width="0.4"/><path d="M367.3,246.1 L381.3,246.6 L367.3,247.2 M367.3,225.5 L375.3,226.0 L367.3,226.6" fill="none" stroke="#ef8a2a" stroke-width="1.1"/><line x1="367.3" y1="155" x2="367.3" y2="338" stroke="#1a9c96" stroke-width="1.4"/></g>
<rect x="48" y="157.20000000000002" width="51.800000000000004" height="8.6" fill="#fff"/>
<rect x="48" y="166.0" width="59.00000000000001" height="8.6" fill="#fff"/>
<rect x="48" y="175.0" width="48.2" height="8.6" fill="#fff"/>
<rect x="48" y="183.8" width="55.400000000000006" height="8.6" fill="#fff"/>
<line x1="49" y1="161.4" x2="65" y2="161.4" stroke="#1f5aa6" stroke-width="1.4" />
<text x="67.4" y="164.0" font-size="7.3" font-family="'Liberation Serif', 'Times New Roman', serif" font-weight="bold" text-anchor="start" fill="#111" stroke="#111" stroke-width="0.22" >Co3d (up)</text>
<line x1="49" y1="170.2" x2="65" y2="170.2" stroke="#1c9be8" stroke-width="1.4" />
<text x="67.4" y="172.79999999999998" font-size="7.3" font-family="'Liberation Serif', 'Times New Roman', serif" font-weight="bold" text-anchor="start" fill="#111" stroke="#111" stroke-width="0.22" >Co3d (down)</text>
<line x1="49" y1="179.2" x2="65" y2="179.2" stroke="#ef8a2a" stroke-width="1.4" />
<text x="67.4" y="181.79999999999998" font-size="7.3" font-family="'Liberation Serif', 'Times New Roman', serif" font-weight="bold" text-anchor="start" fill="#111" stroke="#111" stroke-width="0.22" >O2p (up)</text>
<line x1="49" y1="188.0" x2="65" y2="188.0" stroke="#f6b878" stroke-width="1.4" />
<text x="67.4" y="190.6" font-size="7.3" font-family="'Liberation Serif', 'Times New Roman', serif" font-weight="bold" text-anchor="start" fill="#111" stroke="#111" stroke-width="0.22" >O2p (down)</text>
<rect x="175.5" y="156.20000000000002" width="50.9" height="8.6" fill="#fff"/>
<rect x="175.5" y="165.20000000000002" width="58.1" height="8.6" fill="#fff"/>
<rect x="175.5" y="174.4" width="47.3" height="8.6" fill="#fff"/>
<rect x="175.5" y="183.20000000000002" width="54.5" height="8.6" fill="#fff"/>
<line x1="176.5" y1="160.4" x2="190.5" y2="160.4" stroke="#1f5aa6" stroke-width="1.4" />
<text x="194" y="163.0" font-size="7.3" font-family="'Liberation Serif', 'Times New Roman', serif" font-weight="bold" text-anchor="start" fill="#111" stroke="#111" stroke-width="0.22" >Co3d (up)</text>
<line x1="176.5" y1="169.4" x2="190.5" y2="169.4" stroke="#1c9be8" stroke-width="1.4" />
<text x="194" y="172.0" font-size="7.3" font-family="'Liberation Serif', 'Times New Roman', serif" font-weight="bold" text-anchor="start" fill="#111" stroke="#111" stroke-width="0.22" >Co3d (down)</text>
<line x1="176.5" y1="178.6" x2="190.5" y2="178.6" stroke="#ef8a2a" stroke-width="1.4" />
<text x="194" y="181.2" font-size="7.3" font-family="'Liberation Serif', 'Times New Roman', serif" font-weight="bold" text-anchor="start" fill="#111" stroke="#111" stroke-width="0.22" >O2p (up)</text>
<line x1="176.5" y1="187.4" x2="190.5" y2="187.4" stroke="#f6b878" stroke-width="1.4" />
<text x="194" y="190.0" font-size="7.3" font-family="'Liberation Serif', 'Times New Roman', serif" font-weight="bold" text-anchor="start" fill="#111" stroke="#111" stroke-width="0.22" >O2p (down)</text>
<rect x="304.5" y="156.5" width="52.09999999999999" height="8.6" fill="#fff"/>
<rect x="304.5" y="165.3" width="59.29999999999999" height="8.6" fill="#fff"/>
<rect x="304.5" y="174.3" width="48.499999999999986" height="8.6" fill="#fff"/>
<rect x="304.5" y="183.3" width="55.69999999999999" height="8.6" fill="#fff"/>
<rect x="304.5" y="192.3" width="52.09999999999999" height="8.6" fill="#fff"/>
<rect x="304.5" y="201.0" width="59.29999999999999" height="8.6" fill="#fff"/>
<line x1="305.5" y1="160.7" x2="320.5" y2="160.7" stroke="#1f5aa6" stroke-width="1.4" />
<text x="324.2" y="163.29999999999998" font-size="7.3" font-family="'Liberation Serif', 'Times New Roman', serif" font-weight="bold" text-anchor="start" fill="#111" stroke="#111" stroke-width="0.22" >Co3d (up)</text>
<line x1="305.5" y1="169.5" x2="320.5" y2="169.5" stroke="#1c9be8" stroke-width="1.4" />
<text x="324.2" y="172.1" font-size="7.3" font-family="'Liberation Serif', 'Times New Roman', serif" font-weight="bold" text-anchor="start" fill="#111" stroke="#111" stroke-width="0.22" >Co3d (down)</text>
<line x1="305.5" y1="178.5" x2="320.5" y2="178.5" stroke="#ef8a2a" stroke-width="1.4" />
<text x="324.2" y="181.1" font-size="7.3" font-family="'Liberation Serif', 'Times New Roman', serif" font-weight="bold" text-anchor="start" fill="#111" stroke="#111" stroke-width="0.22" >O2p (up)</text>
<line x1="305.5" y1="187.5" x2="320.5" y2="187.5" stroke="#f6b878" stroke-width="1.4" />
<text x="324.2" y="190.1" font-size="7.3" font-family="'Liberation Serif', 'Times New Roman', serif" font-weight="bold" text-anchor="start" fill="#111" stroke="#111" stroke-width="0.22" >O2p (down)</text>
<line x1="305.5" y1="196.5" x2="320.5" y2="196.5" stroke="#2a8a60" stroke-width="1.4" />
<text x="324.2" y="199.1" font-size="7.3" font-family="'Liberation Serif', 'Times New Roman', serif" font-weight="bold" text-anchor="start" fill="#111" stroke="#111" stroke-width="0.22" >Ni3d (up)</text>
<line x1="305.5" y1="205.2" x2="320.5" y2="205.2" stroke="#20a8c0" stroke-width="1.4" />
<text x="324.2" y="207.79999999999998" font-size="7.3" font-family="'Liberation Serif', 'Times New Roman', serif" font-weight="bold" text-anchor="start" fill="#111" stroke="#111" stroke-width="0.22" >Ni3d (down)</text>
<text x="140.5" y="164.5" font-size="7" font-family="'Liberation Serif', 'Times New Roman', serif" font-weight="bold" text-anchor="middle" fill="#111" stroke="#111" stroke-width="0.22" >pristine Co<tspan font-size="5" dy="1.5">3</tspan><tspan dy="-1.5">O</tspan><tspan font-size="5" dy="1.5">4</tspan><tspan dy="-1.5"> model</tspan></text>
<text x="276.5" y="164.5" font-size="7" font-family="'Liberation Serif', 'Times New Roman', serif" font-weight="bold" text-anchor="middle" fill="#111" stroke="#111" stroke-width="0.22" >CoO<tspan font-size="5" dy="1.5">x</tspan><tspan dy="-1.5">-Vo model</tspan></text>
<text x="401.2" y="164.5" font-size="7" font-family="'Liberation Serif', 'Times New Roman', serif" font-weight="bold" text-anchor="middle" fill="#111" stroke="#111" stroke-width="0.22" >NiCoO<tspan font-size="5" dy="1.5">x</tspan><tspan dy="-1.5">-Vo model</tspan></text>
<text x="22.5" y="366.7" font-size="13" font-family="'Liberation Sans', Arial, sans-serif" font-weight="bold" text-anchor="start" fill="#1a1a1a" letter-spacing="0.5">(c)</text>
<g clip-path="url(#clc)" fill="none" stroke-width="1.3"><line x1="47" y1="492.4" x2="219" y2="492.4" stroke="#888" stroke-width="0.9" stroke-dasharray="1,1"/><path d="M46.50,501.47 L47.95,501.46 L49.41,501.44 L50.86,501.41 L52.32,501.36 L53.77,501.30 L55.23,501.23 L56.68,501.15 L58.14,501.05 L59.59,500.79 L61.05,500.35 L62.50,499.86 L63.96,499.48 L65.41,499.25 L66.86,499.05 L68.32,498.89 L69.77,498.79 L71.23,498.80 L72.68,498.89 L74.14,499.04 L75.59,499.24 L77.05,499.44 L78.50,499.75 L79.96,500.16 L81.41,500.58 L82.87,500.91 L84.32,501.08 L85.77,501.18 L87.23,501.27 L88.68,501.35 L90.14,501.43 L91.59,501.50 L93.05,501.56 L94.50,501.61 L95.96,501.66 L97.41,501.70 L98.87,501.73 L100.32,501.75 L101.78,501.77 L103.23,501.78 L104.68,501.78 L106.14,501.78 L107.59,501.78 L109.05,501.78 L110.50,501.78 L111.96,501.78 L113.41,501.77 L114.87,501.77 L116.32,501.77 L117.78,501.76 L119.23,501.76 L120.69,501.75 L122.14,501.75 L123.59,501.74 L125.05,501.73 L126.50,501.72 L127.96,501.71 L129.41,501.71 L130.87,501.70 L132.32,501.68 L133.78,501.67 L135.23,501.61 L136.69,501.50 L138.14,501.36 L139.60,501.18 L141.05,500.97 L142.51,500.73 L143.96,500.48 L145.41,500.21 L146.87,499.93 L148.32,499.63 L149.78,499.24 L151.23,498.77 L152.69,498.24 L154.14,497.65 L155.60,497.03 L157.05,496.39 L158.51,495.75 L159.96,495.12 L161.42,494.49 L162.87,493.84 L164.32,493.17 L165.78,492.47 L167.23,491.76 L168.69,491.03 L170.14,490.28 L171.60,489.52 L173.05,488.74 L174.51,487.95 L175.96,487.14 L177.42,486.31 L178.87,485.45 L180.33,484.58 L181.78,483.68 L183.23,482.77 L184.69,481.84 L186.14,480.89 L187.60,479.91 L189.05,478.92 L190.51,477.89 L191.96,476.84 L193.42,475.76 L194.87,474.66 L196.33,473.54 L197.78,472.39 L199.24,471.21 L200.69,470.01 L202.14,468.78 L203.60,467.52 L205.05,466.24 L206.51,464.92 L207.96,463.58 L209.42,462.20 L210.87,460.79 L212.33,459.34 L213.78,457.85 L215.24,456.33 L216.69,454.78 L218.15,453.20 L219.60,451.59" stroke="#2f8bd3"/><path d="M46.50,501.06 L47.95,501.09 L49.41,501.11 L50.86,501.14 L52.32,501.16 L53.77,501.18 L55.23,501.19 L56.68,501.21 L58.14,501.22 L59.59,501.23 L61.05,501.24 L62.50,501.25 L63.96,501.25 L65.41,501.26 L66.86,501.26 L68.32,501.26 L69.77,501.26 L71.23,501.26 L72.68,501.26 L74.14,501.26 L75.59,501.26 L77.05,501.26 L78.50,501.24 L79.96,501.21 L81.41,501.17 L82.87,501.13 L84.32,501.08 L85.77,501.02 L87.23,500.96 L88.68,500.90 L90.14,500.83 L91.59,500.76 L93.05,500.69 L94.50,500.62 L95.96,500.55 L97.41,500.48 L98.87,500.42 L100.32,500.36 L101.78,500.31 L103.23,500.26 L104.68,500.22 L106.14,500.18 L107.59,500.15 L109.05,500.12 L110.50,500.09 L111.96,500.07 L113.41,500.05 L114.87,500.03 L116.32,500.00 L117.78,499.98 L119.23,499.96 L120.69,499.94 L122.14,499.91 L123.59,499.88 L125.05,499.85 L126.50,499.82 L127.96,499.78 L129.41,499.74 L130.87,499.69 L132.32,499.64 L133.78,499.57 L135.23,499.48 L136.69,499.35 L138.14,499.18 L139.60,498.99 L141.05,498.77 L142.51,498.53 L143.96,498.26 L145.41,497.97 L146.87,497.67 L148.32,497.34 L149.78,496.91 L151.23,496.39 L152.69,495.81 L154.14,495.15 L155.60,494.46 L157.05,493.73 L158.51,492.98 L159.96,492.22 L161.42,491.43 L162.87,490.60 L164.32,489.71 L165.78,488.77 L167.23,487.79 L168.69,486.77 L170.14,485.70 L171.60,484.60 L173.05,483.46 L174.51,482.29 L175.96,481.08 L177.42,479.82 L178.87,478.49 L180.33,477.10 L181.78,475.62 L183.23,474.04 L184.69,472.36 L186.14,470.56 L187.60,468.52 L189.05,466.22 L190.51,463.74 L191.96,461.11 L193.42,458.40 L194.87,455.66 L196.33,452.94 L197.78,450.18 L199.24,447.34 L200.69,444.44 L202.14,441.47 L203.60,438.44 L205.05,435.36 L206.51,432.22 L207.96,429.03 L209.42,425.78 L210.87,422.46 L212.33,419.08 L213.78,415.62 L215.24,412.10 L216.69,408.52 L218.15,404.88 L219.60,401.18" stroke="#4f9c2c"/><path d="M46.50,501.06 L47.80,501.08 L49.09,501.11 L50.39,501.13 L51.69,501.15 L52.99,501.17 L54.28,501.18 L55.58,501.20 L56.88,501.21 L58.17,501.22 L59.47,501.23 L60.77,501.24 L62.06,501.24 L63.36,501.25 L64.66,501.25 L65.96,501.26 L67.25,501.26 L68.55,501.26 L69.85,501.26 L71.14,501.26 L72.44,501.26 L73.74,501.26 L75.03,501.26 L76.33,501.26 L77.63,501.24 L78.93,501.20 L80.22,501.15 L81.52,501.09 L82.82,501.02 L84.11,500.94 L85.41,500.85 L86.71,500.76 L88.01,500.67 L89.30,500.57 L90.60,500.48 L91.90,500.36 L93.19,500.22 L94.49,500.06 L95.79,499.89 L97.08,499.71 L98.38,499.52 L99.68,499.33 L100.98,499.14 L102.27,498.95 L103.57,498.76 L104.87,498.59 L106.16,498.41 L107.46,498.24 L108.76,498.07 L110.05,497.89 L111.35,497.72 L112.65,497.53 L113.95,497.35 L115.24,497.15 L116.54,496.95 L117.84,496.74 L119.13,496.52 L120.43,496.29 L121.73,496.05 L123.03,495.80 L124.32,495.54 L125.62,495.28 L126.92,495.00 L128.21,494.70 L129.51,494.40 L130.81,494.08 L132.10,493.75 L133.40,493.41 L134.70,493.05 L136.00,492.69 L137.29,492.32 L138.59,491.92 L139.89,491.50 L141.18,491.06 L142.48,490.58 L143.78,490.06 L145.07,489.50 L146.37,488.89 L147.67,488.22 L148.97,487.45 L150.26,486.55 L151.56,485.53 L152.86,484.39 L154.15,483.15 L155.45,481.81 L156.75,480.39 L158.05,478.88 L159.34,477.30 L160.64,475.64 L161.94,473.76 L163.23,471.69 L164.53,469.43 L165.83,467.01 L167.12,464.45 L168.42,461.76 L169.72,458.97 L171.02,456.09 L172.31,453.15 L173.61,450.16 L174.91,447.02 L176.20,443.70 L177.50,440.20 L178.80,436.55 L180.09,432.76 L181.39,428.84 L182.69,424.83 L183.99,420.73 L185.28,416.56 L186.58,412.30 L187.88,407.80 L189.17,403.09 L190.47,398.25 L191.77,393.36 L193.07,388.49 L194.36,383.70 L195.66,378.89 L196.96,374.07 L198.25,369.22 L199.55,364.36 L200.85,359.47" stroke="#e27a4a"/><path d="M46.50,501.26 L47.95,501.26 L49.41,501.26 L50.86,501.26 L52.32,501.26 L53.77,501.26 L55.23,501.26 L56.68,501.26 L58.14,501.26 L59.59,501.26 L61.05,501.26 L62.50,501.26 L63.96,501.26 L65.41,501.26 L66.86,501.26 L68.32,501.26 L69.77,501.26 L71.23,501.26 L72.68,501.26 L74.14,501.26 L75.59,501.26 L77.05,501.25 L78.50,501.23 L79.96,501.19 L81.41,501.15 L82.87,501.09 L84.32,501.03 L85.77,500.96 L87.23,500.88 L88.68,500.81 L90.14,500.73 L91.59,500.62 L93.05,500.49 L94.50,500.34 L95.96,500.17 L97.41,499.99 L98.87,499.81 L100.32,499.63 L101.78,499.45 L103.23,499.29 L104.68,499.15 L106.14,499.02 L107.59,498.89 L109.05,498.78 L110.50,498.66 L111.96,498.54 L113.41,498.43 L114.87,498.31 L116.32,498.18 L117.78,498.04 L119.23,497.89 L120.69,497.74 L122.14,497.58 L123.59,497.42 L125.05,497.25 L126.50,497.07 L127.96,496.88 L129.41,496.68 L130.87,496.46 L132.32,496.22 L133.78,495.96 L135.23,495.67 L136.69,495.36 L138.14,495.02 L139.60,494.64 L141.05,494.23 L142.51,493.78 L143.96,493.30 L145.41,492.77 L146.87,492.20 L148.32,491.57 L149.78,490.80 L151.23,489.90 L152.69,488.89 L154.14,487.77 L155.60,486.57 L157.05,485.29 L158.51,483.95 L159.96,482.56 L161.42,481.05 L162.87,479.38 L164.32,477.55 L165.78,475.60 L167.23,473.54 L168.69,471.40 L170.14,469.18 L171.60,466.91 L173.05,464.62 L174.51,462.27 L175.96,459.77 L177.42,457.15 L178.87,454.43 L180.33,451.65 L181.78,448.82 L183.23,445.97 L184.69,443.14 L186.14,440.36 L187.60,437.57 L189.05,434.77 L190.51,431.95 L191.96,429.11 L193.42,426.25 L194.87,423.38 L196.33,420.50 L197.78,417.62 L199.24,414.73 L200.69,411.84 L202.14,408.93 L203.60,405.99 L205.05,403.02 L206.51,400.00 L207.96,396.94 L209.42,393.82 L210.87,390.66 L212.33,387.46 L213.78,384.22 L215.24,380.94 L216.69,377.61 L218.15,374.25 L219.60,370.86" stroke="#8c8a3a"/><path d="M46.50,500.23 L47.95,500.23 L49.41,500.23 L50.86,500.23 L52.32,500.23 L53.77,500.23 L55.23,500.23 L56.68,500.23 L58.14,500.23 L59.59,500.23 L61.05,500.23 L62.50,500.23 L63.96,500.23 L65.41,500.23 L66.86,500.23 L68.32,500.23 L69.77,500.23 L71.23,500.23 L72.68,500.23 L74.14,500.23 L75.59,500.23 L77.05,500.22 L78.50,500.21 L79.96,500.19 L81.41,500.17 L82.87,500.14 L84.32,500.10 L85.77,500.06 L87.23,500.02 L88.68,499.97 L90.14,499.92 L91.59,499.87 L93.05,499.81 L94.50,499.76 L95.96,499.70 L97.41,499.64 L98.87,499.59 L100.32,499.54 L101.78,499.48 L103.23,499.43 L104.68,499.39 L106.14,499.34 L107.59,499.30 L109.05,499.26 L110.50,499.22 L111.96,499.18 L113.41,499.14 L114.87,499.10 L116.32,499.06 L117.78,499.02 L119.23,498.98 L120.69,498.93 L122.14,498.88 L123.59,498.83 L125.05,498.77 L126.50,498.71 L127.96,498.65 L129.41,498.57 L130.87,498.50 L132.32,498.41 L133.78,498.32 L135.23,498.19 L136.69,498.04 L138.14,497.86 L139.60,497.65 L141.05,497.42 L142.51,497.15 L143.96,496.87 L145.41,496.56 L146.87,496.23 L148.32,495.87 L149.78,495.41 L151.23,494.85 L152.69,494.22 L154.14,493.51 L155.60,492.75 L157.05,491.95 L158.51,491.11 L159.96,490.25 L161.42,489.32 L162.87,488.30 L164.32,487.19 L165.78,486.01 L167.23,484.77 L168.69,483.47 L170.14,482.13 L171.60,480.77 L173.05,479.38 L174.51,477.98 L175.96,476.53 L177.42,475.03 L178.87,473.47 L180.33,471.85 L181.78,470.18 L183.23,468.44 L184.69,466.63 L186.14,464.75 L187.60,462.77 L189.05,460.69 L190.51,458.50 L191.96,456.21 L193.42,453.84 L194.87,451.38 L196.33,448.84 L197.78,446.18 L199.24,443.40 L200.69,440.52 L202.14,437.53 L203.60,434.46 L205.05,431.33 L206.51,428.13 L207.96,424.89 L209.42,421.59 L210.87,418.21 L212.33,414.74 L213.78,411.18 L215.24,407.55 L216.69,403.84 L218.15,400.06 L219.60,396.21" stroke="#e6e24c"/><path d="M46.50,501.78 L47.95,501.85 L49.41,501.91 L50.86,501.97 L52.32,502.04 L53.77,502.10 L55.23,502.16 L56.68,502.21 L58.14,502.27 L59.59,502.33 L61.05,502.38 L62.50,502.43 L63.96,502.48 L65.41,502.53 L66.86,502.58 L68.32,502.62 L69.77,502.67 L71.23,502.71 L72.68,502.75 L74.14,502.79 L75.59,502.82 L77.05,502.86 L78.50,502.89 L79.96,502.93 L81.41,502.97 L82.87,503.00 L84.32,503.04 L85.77,503.07 L87.23,503.11 L88.68,503.14 L90.14,503.17 L91.59,503.20 L93.05,503.23 L94.50,503.25 L95.96,503.27 L97.41,503.29 L98.87,503.31 L100.32,503.32 L101.78,503.33 L103.23,503.33 L104.68,503.33 L106.14,503.33 L107.59,503.33 L109.05,503.32 L110.50,503.31 L111.96,503.30 L113.41,503.28 L114.87,503.26 L116.32,503.24 L117.78,503.22 L119.23,503.19 L120.69,503.16 L122.14,503.13 L123.59,503.10 L125.05,503.06 L126.50,503.02 L127.96,502.98 L129.41,502.94 L130.87,502.89 L132.32,502.84 L133.78,502.79 L135.23,502.69 L136.69,502.54 L138.14,502.36 L139.60,502.16 L141.05,501.93 L142.51,501.69 L143.96,501.44 L145.41,501.19 L146.87,500.95 L148.32,500.72 L149.78,500.48 L151.23,500.23 L152.69,499.97 L154.14,499.70 L155.60,499.42 L157.05,499.14 L158.51,498.85 L159.96,498.56 L161.42,498.26 L162.87,497.96 L164.32,497.64 L165.78,497.33 L167.23,497.00 L168.69,496.66 L170.14,496.31 L171.60,495.95 L173.05,495.57 L174.51,495.18 L175.96,494.77 L177.42,494.34 L178.87,493.90 L180.33,493.44 L181.78,492.96 L183.23,492.47 L184.69,491.96 L186.14,491.43 L187.60,490.86 L189.05,490.27 L190.51,489.65 L191.96,489.01 L193.42,488.35 L194.87,487.68 L196.33,487.01 L197.78,486.33 L199.24,485.64 L200.69,484.93 L202.14,484.21 L203.60,483.48 L205.05,482.74 L206.51,481.99 L207.96,481.24 L209.42,480.47 L210.87,479.69 L212.33,478.90 L213.78,478.09 L215.24,477.28 L216.69,476.45 L218.15,475.62 L219.60,474.77" stroke="#333333"/></g>
<rect x="46.4" y="368" width="173.4" height="139.5" fill="none" stroke="#333" stroke-width="1.4"/>
<line x1="46.5" y1="507.4" x2="46.5" y2="504.2" stroke="#333" stroke-width="1.1" />
<text x="46.5" y="519.8" font-size="11" font-family="'Liberation Serif', 'Times New Roman', serif" font-weight="bold" text-anchor="middle" fill="#111" stroke="#111" stroke-width="0.22" >1.2</text>
<line x1="60.92500000000001" y1="507.4" x2="60.92500000000001" y2="505.4" stroke="#333" stroke-width="1.0" />
<line x1="75.35000000000002" y1="507.4" x2="75.35000000000002" y2="504.2" stroke="#333" stroke-width="1.1" />
<text x="75.35000000000002" y="519.8" font-size="11" font-family="'Liberation Serif', 'Times New Roman', serif" font-weight="bold" text-anchor="middle" fill="#111" stroke="#111" stroke-width="0.22" >1.3</text>
<line x1="89.77500000000003" y1="507.4" x2="89.77500000000003" y2="505.4" stroke="#333" stroke-width="1.0" />
<line x1="104.19999999999999" y1="507.4" x2="104.19999999999999" y2="504.2" stroke="#333" stroke-width="1.1" />
<text x="104.19999999999999" y="519.8" font-size="11" font-family="'Liberation Serif', 'Times New Roman', serif" font-weight="bold" text-anchor="middle" fill="#111" stroke="#111" stroke-width="0.22" >1.4</text>
<line x1="118.625" y1="507.4" x2="118.625" y2="505.4" stroke="#333" stroke-width="1.0" />
<line x1="133.05" y1="507.4" x2="133.05" y2="504.2" stroke="#333" stroke-width="1.1" />
<text x="133.05" y="519.8" font-size="11" font-family="'Liberation Serif', 'Times New Roman', serif" font-weight="bold" text-anchor="middle" fill="#111" stroke="#111" stroke-width="0.22" >1.5</text>
<line x1="147.47500000000002" y1="507.4" x2="147.47500000000002" y2="505.4" stroke="#333" stroke-width="1.0" />
<line x1="161.90000000000003" y1="507.4" x2="161.90000000000003" y2="504.2" stroke="#333" stroke-width="1.1" />
<text x="161.90000000000003" y="519.8" font-size="11" font-family="'Liberation Serif', 'Times New Roman', serif" font-weight="bold" text-anchor="middle" fill="#111" stroke="#111" stroke-width="0.22" >1.6</text>
<line x1="176.325" y1="507.4" x2="176.325" y2="505.4" stroke="#333" stroke-width="1.0" />
<line x1="190.75" y1="507.4" x2="190.75" y2="504.2" stroke="#333" stroke-width="1.1" />
<text x="190.75" y="519.8" font-size="11" font-family="'Liberation Serif', 'Times New Roman', serif" font-weight="bold" text-anchor="middle" fill="#111" stroke="#111" stroke-width="0.22" >1.7</text>
<line x1="205.175" y1="507.4" x2="205.175" y2="505.4" stroke="#333" stroke-width="1.0" />
<line x1="219.60000000000002" y1="507.4" x2="219.60000000000002" y2="504.2" stroke="#333" stroke-width="1.1" />
<text x="219.60000000000002" y="519.8" font-size="11" font-family="'Liberation Serif', 'Times New Roman', serif" font-weight="bold" text-anchor="middle" fill="#111" stroke="#111" stroke-width="0.22" >1.8</text>
<line x1="46.5" y1="502.3" x2="49.7" y2="502.3" stroke="#333" stroke-width="1.1" />
<text x="43" y="506.1" font-size="11" font-family="'Liberation Serif', 'Times New Roman', serif" font-weight="bold" text-anchor="end" fill="#111" stroke="#111" stroke-width="0.22" >0</text>
<line x1="46.5" y1="491.95" x2="48.5" y2="491.95" stroke="#333" stroke-width="1.0" />
<line x1="46.5" y1="481.6" x2="49.7" y2="481.6" stroke="#333" stroke-width="1.1" />
<text x="43" y="485.40000000000003" font-size="11" font-family="'Liberation Serif', 'Times New Roman', serif" font-weight="bold" text-anchor="end" fill="#111" stroke="#111" stroke-width="0.22" >20</text>
<line x1="46.5" y1="471.25" x2="48.5" y2="471.25" stroke="#333" stroke-width="1.0" />
<line x1="46.5" y1="460.90000000000003" x2="49.7" y2="460.90000000000003" stroke="#333" stroke-width="1.1" />
<text x="43" y="464.70000000000005" font-size="11" font-family="'Liberation Serif', 'Times New Roman', serif" font-weight="bold" text-anchor="end" fill="#111" stroke="#111" stroke-width="0.22" >40</text>
<line x1="46.5" y1="450.55" x2="48.5" y2="450.55" stroke="#333" stroke-width="1.0" />
<line x1="46.5" y1="440.20000000000005" x2="49.7" y2="440.20000000000005" stroke="#333" stroke-width="1.1" />
<text x="43" y="444.00000000000006" font-size="11" font-family="'Liberation Serif', 'Times New Roman', serif" font-weight="bold" text-anchor="end" fill="#111" stroke="#111" stroke-width="0.22" >60</text>
<line x1="46.5" y1="429.85" x2="48.5" y2="429.85" stroke="#333" stroke-width="1.0" />
<line x1="46.5" y1="419.5" x2="49.7" y2="419.5" stroke="#333" stroke-width="1.1" />
<text x="43" y="423.3" font-size="11" font-family="'Liberation Serif', 'Times New Roman', serif" font-weight="bold" text-anchor="end" fill="#111" stroke="#111" stroke-width="0.22" >80</text>
<line x1="46.5" y1="409.15000000000003" x2="48.5" y2="409.15000000000003" stroke="#333" stroke-width="1.0" />
<line x1="46.5" y1="398.8" x2="49.7" y2="398.8" stroke="#333" stroke-width="1.1" />
<text x="43" y="402.6" font-size="11" font-family="'Liberation Serif', 'Times New Roman', serif" font-weight="bold" text-anchor="end" fill="#111" stroke="#111" stroke-width="0.22" >100</text>
<line x1="46.5" y1="388.45000000000005" x2="48.5" y2="388.45000000000005" stroke="#333" stroke-width="1.0" />
<line x1="46.5" y1="378.1" x2="49.7" y2="378.1" stroke="#333" stroke-width="1.1" />
<text x="43" y="381.90000000000003" font-size="11" font-family="'Liberation Serif', 'Times New Roman', serif" font-weight="bold" text-anchor="end" fill="#111" stroke="#111" stroke-width="0.22" >120</text>
<line x1="46.5" y1="367.75" x2="48.5" y2="367.75" stroke="#333" stroke-width="1.0" />
<text x="133" y="534.7" font-size="11.9" font-family="'Liberation Serif', 'Times New Roman', serif" font-weight="bold" text-anchor="middle" fill="#111" stroke="#111" stroke-width="0.22" >Potential (V vs.RHE)</text>
<text transform="translate(22.5,438.5) rotate(-90)" font-size="11" font-family="'Liberation Serif', 'Times New Roman', serif" font-weight="bold" text-anchor="middle" fill="#111" stroke="#111" stroke-width="0.22"><tspan font-style="italic">j</tspan> (mA cm<tspan font-size="7" dy="-4">-2</tspan><tspan dy="4">)</tspan></text>
<line x1="53.6" y1="377.5" x2="71.1" y2="377.5" stroke="#2f8bd3" stroke-width="1.4" />
<text x="74.1" y="380.7" font-size="9.4" font-family="'Liberation Serif', 'Times New Roman', serif" font-weight="bold" text-anchor="start" fill="#111" stroke="#111" stroke-width="0.22" ><tspan font-style="italic">f</tspan>-CoO<tspan font-size="5.6" dy="2">x</tspan><tspan dy="-2"></tspan></text>
<line x1="53.6" y1="390.05" x2="71.1" y2="390.05" stroke="#4f9c2c" stroke-width="1.4" />
<text x="74.1" y="393.25" font-size="9.4" font-family="'Liberation Serif', 'Times New Roman', serif" font-weight="bold" text-anchor="start" fill="#111" stroke="#111" stroke-width="0.22" ><tspan font-style="italic">f</tspan>-Ni<tspan font-size="5.6" dy="2">0.05</tspan><tspan dy="-2">Co</tspan><tspan font-size="5.6" dy="2">0.95</tspan><tspan dy="-2">O</tspan><tspan font-size="5.6" dy="2">x</tspan><tspan dy="-2"></tspan></text>
<line x1="53.6" y1="402.6" x2="71.1" y2="402.6" stroke="#e27a4a" stroke-width="1.4" />
<text x="74.1" y="405.8" font-size="9.4" font-family="'Liberation Serif', 'Times New Roman', serif" font-weight="bold" text-anchor="start" fill="#111" stroke="#111" stroke-width="0.22" ><tspan font-style="italic">f</tspan>-Ni<tspan font-size="5.6" dy="2">0.1</tspan><tspan dy="-2">Co</tspan><tspan font-size="5.6" dy="2">0.9</tspan><tspan dy="-2">O</tspan><tspan font-size="5.6" dy="2">x</tspan><tspan dy="-2"></tspan></text>
<line x1="53.6" y1="415.15" x2="71.1" y2="415.15" stroke="#8c8a3a" stroke-width="1.4" />
<text x="74.1" y="418.34999999999997" font-size="9.4" font-family="'Liberation Serif', 'Times New Roman', serif" font-weight="bold" text-anchor="start" fill="#111" stroke="#111" stroke-width="0.22" ><tspan font-style="italic">f</tspan>-Ni<tspan font-size="5.6" dy="2">0.3</tspan><tspan dy="-2">Co</tspan><tspan font-size="5.6" dy="2">0.7</tspan><tspan dy="-2">O</tspan><tspan font-size="5.6" dy="2">x</tspan><tspan dy="-2"></tspan></text>
<line x1="53.6" y1="427.7" x2="71.1" y2="427.7" stroke="#e6e24c" stroke-width="1.4" />
<text x="74.1" y="430.9" font-size="9.4" font-family="'Liberation Serif', 'Times New Roman', serif" font-weight="bold" text-anchor="start" fill="#111" stroke="#111" stroke-width="0.22" >RuO<tspan font-size="5.6" dy="2">2</tspan><tspan dy="-2"></tspan></text>
<line x1="53.6" y1="440.25" x2="71.1" y2="440.25" stroke="#333333" stroke-width="1.4" />
<text x="74.1" y="443.45" font-size="9.4" font-family="'Liberation Serif', 'Times New Roman', serif" font-weight="bold" text-anchor="start" fill="#111" stroke="#111" stroke-width="0.22" ><tspan font-style="italic">f</tspan>-NiO<tspan font-size="5.6" dy="2">x</tspan><tspan dy="-2"></tspan></text>
<text x="222.8" y="367.6" font-size="13" font-family="'Liberation Sans', Arial, sans-serif" font-weight="bold" letter-spacing="0.9" fill="#1a1a1a">(d)</text>
<rect x="258.2" y="368" width="174.2" height="140.5" fill="none" stroke="#333" stroke-width="1.4"/>
<line x1="258.3" y1="508.5" x2="258.3" y2="505.3" stroke="#333" stroke-width="1.1" />
<text x="258.3" y="519.5" font-size="11" font-family="'Liberation Serif', 'Times New Roman', serif" font-weight="bold" text-anchor="middle" fill="#111" stroke="#111" stroke-width="0.22" >-0.5</text>
<line x1="275.675" y1="508.5" x2="275.675" y2="506.5" stroke="#333" stroke-width="1.0" />
<line x1="293.05" y1="508.5" x2="293.05" y2="505.3" stroke="#333" stroke-width="1.1" />
<text x="293.05" y="519.5" font-size="11" font-family="'Liberation Serif', 'Times New Roman', serif" font-weight="bold" text-anchor="middle" fill="#111" stroke="#111" stroke-width="0.22" >0.0</text>
<line x1="310.425" y1="508.5" x2="310.425" y2="506.5" stroke="#333" stroke-width="1.0" />
<line x1="327.8" y1="508.5" x2="327.8" y2="505.3" stroke="#333" stroke-width="1.1" />
<text x="327.8" y="519.5" font-size="11" font-family="'Liberation Serif', 'Times New Roman', serif" font-weight="bold" text-anchor="middle" fill="#111" stroke="#111" stroke-width="0.22" >0.5</text>
<line x1="345.175" y1="508.5" x2="345.175" y2="506.5" stroke="#333" stroke-width="1.0" />
<line x1="362.55" y1="508.5" x2="362.55" y2="505.3" stroke="#333" stroke-width="1.1" />
<text x="362.55" y="519.5" font-size="11" font-family="'Liberation Serif', 'Times New Roman', serif" font-weight="bold" text-anchor="middle" fill="#111" stroke="#111" stroke-width="0.22" >1.0</text>
<line x1="379.925" y1="508.5" x2="379.925" y2="506.5" stroke="#333" stroke-width="1.0" />
<line x1="397.3" y1="508.5" x2="397.3" y2="505.3" stroke="#333" stroke-width="1.1" />
<text x="397.3" y="519.5" font-size="11" font-family="'Liberation Serif', 'Times New Roman', serif" font-weight="bold" text-anchor="middle" fill="#111" stroke="#111" stroke-width="0.22" >1.5</text>
<line x1="414.675" y1="508.5" x2="414.675" y2="506.5" stroke="#333" stroke-width="1.0" />
<line x1="432.05" y1="508.5" x2="432.05" y2="505.3" stroke="#333" stroke-width="1.1" />
<text x="432.05" y="519.5" font-size="11" font-family="'Liberation Serif', 'Times New Roman', serif" font-weight="bold" text-anchor="middle" fill="#111" stroke="#111" stroke-width="0.22" >2.0</text>
<line x1="258.2" y1="508.5" x2="261.4" y2="508.5" stroke="#333" stroke-width="1.1" />
<text x="254.8" y="514.0" font-size="11" font-family="'Liberation Serif', 'Times New Roman', serif" font-weight="bold" text-anchor="end" fill="#111" stroke="#111" stroke-width="0.22" >0.0</text>
<line x1="258.2" y1="490.9" x2="260.2" y2="490.9" stroke="#333" stroke-width="1.0" />
<line x1="258.2" y1="473.3" x2="261.4" y2="473.3" stroke="#333" stroke-width="1.1" />
<text x="254.8" y="477.90000000000003" font-size="11" font-family="'Liberation Serif', 'Times New Roman', serif" font-weight="bold" text-anchor="end" fill="#111" stroke="#111" stroke-width="0.22" >0.2</text>
<line x1="258.2" y1="455.7" x2="260.2" y2="455.7" stroke="#333" stroke-width="1.0" />
<line x1="258.2" y1="438.1" x2="261.4" y2="438.1" stroke="#333" stroke-width="1.1" />
<text x="254.8" y="442.70000000000005" font-size="11" font-family="'Liberation Serif', 'Times New Roman', serif" font-weight="bold" text-anchor="end" fill="#111" stroke="#111" stroke-width="0.22" >0.4</text>
<line x1="258.2" y1="420.5" x2="260.2" y2="420.5" stroke="#333" stroke-width="1.0" />
<line x1="258.2" y1="402.9" x2="261.4" y2="402.9" stroke="#333" stroke-width="1.1" />
<text x="254.8" y="407.5" font-size="11" font-family="'Liberation Serif', 'Times New Roman', serif" font-weight="bold" text-anchor="end" fill="#111" stroke="#111" stroke-width="0.22" >0.6</text>
<line x1="258.2" y1="385.29999999999995" x2="260.2" y2="385.29999999999995" stroke="#333" stroke-width="1.0" />
<text x="254.8" y="378" font-size="11" font-family="'Liberation Serif', 'Times New Roman', serif" font-weight="bold" text-anchor="end" fill="#111" stroke="#111" stroke-width="0.22" >0.8</text>
<text x="345.5" y="536.3" font-size="11.9" font-family="'Liberation Serif', 'Times New Roman', serif" font-weight="bold" text-anchor="middle" fill="#111" stroke="#111" stroke-width="0.22" >Log (<tspan font-style="italic">j</tspan>/mA cm<tspan font-size="7.5" dy="-4">-2</tspan><tspan dy="4">)</tspan></text>
<text transform="translate(233.5,441.5) rotate(-90)" font-size="11" font-family="'Liberation Serif', 'Times New Roman', serif" font-weight="bold" text-anchor="middle" fill="#111" stroke="#111" stroke-width="0.22">Overpotential <tspan font-style="italic">η</tspan> (V)</text>
<g clip-path="url(#cld)" fill="none" stroke-linecap="butt"><path d="M279.60,463.02 C280.48,462.83 283.11,462.27 284.87,461.89 C286.62,461.52 288.38,461.15 290.13,460.78 C291.89,460.40 293.64,460.03 295.40,459.66 C297.15,459.29 298.91,458.92 300.66,458.55 C302.42,458.18 304.17,457.81 305.93,457.45 C307.68,457.08 309.44,456.71 311.19,456.34 C312.95,455.98 314.70,455.61 316.46,455.24 C318.21,454.88 319.97,454.51 321.72,454.15 C323.48,453.79 325.23,453.42 326.99,453.06 C328.74,452.70 330.50,452.33 332.25,451.97 C334.01,451.61 335.76,451.25 337.52,450.89 C339.27,450.53 341.03,450.17 342.78,449.81 C344.54,449.45 346.29,449.09 348.05,448.73 C349.80,448.38 351.56,448.02 353.31,447.66 C355.07,447.31 356.82,446.95 358.58,446.60 C360.33,446.24 362.09,445.89 363.84,445.53 C365.60,445.18 367.35,444.83 369.11,444.47 C370.86,444.12 372.62,443.77 374.37,443.42 C376.13,443.07 377.88,442.71 379.64,442.36 C381.39,442.01 383.15,441.67 384.90,441.32 C386.66,440.97 388.41,440.62 390.17,440.27 C391.92,439.93 393.68,439.58 395.43,439.23 C397.19,438.89 399.82,438.37 400.70,438.20" stroke="#ee8a30" stroke-width="3.2"/><path d="M276.00,455.64 C276.88,455.50 279.51,455.14 281.27,454.81 C283.02,454.48 284.78,454.09 286.53,453.67 C288.29,453.25 290.04,452.78 291.80,452.30 C293.55,451.82 295.31,451.30 297.06,450.78 C298.82,450.26 300.57,449.72 302.33,449.18 C304.08,448.65 305.84,448.10 307.59,447.56 C309.35,447.02 311.10,446.48 312.86,445.95 C314.61,445.43 316.37,444.90 318.12,444.40 C319.88,443.89 321.63,443.39 323.39,442.91 C325.14,442.42 326.90,441.95 328.65,441.49 C330.41,441.03 332.16,440.58 333.92,440.14 C335.67,439.70 337.43,439.27 339.18,438.84 C340.94,438.41 342.69,437.99 344.45,437.56 C346.20,437.13 347.96,436.71 349.71,436.26 C351.47,435.82 353.22,435.37 354.98,434.89 C356.73,434.41 358.49,433.92 360.24,433.38 C362.00,432.84 363.75,432.27 365.51,431.65 C367.26,431.02 369.02,430.35 370.77,429.61 C372.53,428.86 374.28,428.06 376.04,427.16 C377.79,426.25 379.55,425.28 381.30,424.18 C383.06,423.08 384.81,421.90 386.57,420.56 C388.32,419.22 390.08,417.77 391.83,416.14 C393.59,414.51 396.22,411.68 397.10,410.79" stroke="#1f88d8" stroke-width="3.8"/><path d="M278.70,455.15 C279.73,454.82 282.81,453.79 284.86,453.16 C286.91,452.53 288.97,451.95 291.02,451.39 C293.08,450.82 295.13,450.29 297.18,449.76 C299.24,449.24 301.29,448.74 303.34,448.23 C305.40,447.73 307.45,447.24 309.50,446.74 C311.56,446.24 313.61,445.74 315.67,445.22 C317.72,444.70 319.77,444.18 321.83,443.63 C323.88,443.08 325.93,442.51 327.99,441.91 C330.04,441.31 332.09,440.68 334.15,440.01 C336.20,439.34 338.26,438.64 340.31,437.89 C342.36,437.14 344.42,436.34 346.47,435.49 C348.52,434.64 350.58,433.75 352.63,432.78 C354.68,431.82 356.74,430.81 358.79,429.72 C360.84,428.63 362.90,427.48 364.95,426.26 C367.01,425.03 369.06,423.74 371.11,422.36 C373.17,420.98 375.22,419.53 377.27,417.99 C379.33,416.45 381.38,414.83 383.43,413.12 C385.49,411.41 387.54,409.61 389.60,407.71 C391.65,405.82 393.70,403.83 395.76,401.74 C397.81,399.65 399.86,397.47 401.92,395.18 C403.97,392.89 406.02,390.50 408.08,388.00 C410.13,385.50 412.19,382.89 414.24,380.18 C416.29,377.46 419.37,373.11 420.40,371.69" stroke="#2e2e2e" stroke-width="3.8"/><path d="M278.70,455.15 C279.73,454.82 282.81,453.79 284.86,453.16 C286.91,452.53 288.97,451.95 291.02,451.39 C293.08,450.82 295.13,450.29 297.18,449.76 C299.24,449.24 302.32,448.49 303.34,448.23" stroke="#5a5a50" stroke-width="1.0" stroke-dasharray="1,1.2"/><path d="M279.60,463.02 C280.48,462.83 283.11,462.27 284.87,461.89 C286.62,461.52 288.38,461.15 290.13,460.78 C291.89,460.40 293.64,460.03 295.40,459.66 C297.15,459.29 298.91,458.92 300.66,458.55 C302.42,458.18 304.17,457.81 305.93,457.45 C307.68,457.08 309.44,456.71 311.19,456.34 C312.95,455.98 314.70,455.61 316.46,455.24 C318.21,454.88 319.97,454.51 321.72,454.15 C323.48,453.79 325.23,453.42 326.99,453.06 C328.74,452.70 330.50,452.33 332.25,451.97 C334.01,451.61 335.76,451.25 337.52,450.89 C339.27,450.53 341.03,450.17 342.78,449.81 C344.54,449.45 346.29,449.09 348.05,448.73 C349.80,448.38 351.56,448.02 353.31,447.66 C355.07,447.31 356.82,446.95 358.58,446.60 C360.33,446.24 362.09,445.89 363.84,445.53 C365.60,445.18 367.35,444.83 369.11,444.47 C370.86,444.12 372.62,443.77 374.37,443.42 C376.13,443.07 377.88,442.71 379.64,442.36 C381.39,442.01 383.15,441.67 384.90,441.32 C386.66,440.97 388.41,440.62 390.17,440.27 C391.92,439.93 393.68,439.58 395.43,439.23 C397.19,438.89 399.82,438.37 400.70,438.20" stroke="#f4a860" stroke-width="0.8" stroke-dasharray="1,1.5"/><line x1="358" y1="432.5" x2="375" y2="431.5" stroke="#1f88d8" stroke-width="0.7" stroke-dasharray="1,0.8"/></g>
<text x="291.4" y="429" font-size="8.6" font-family="'Liberation Serif', 'Times New Roman', serif" font-weight="bold" text-anchor="start" fill="#333" stroke="#333" stroke-width="0.22" >107.7 mV dec<tspan font-size="6" dy="-3.5">-1</tspan></text>
<text x="375.4" y="434.3" font-size="8.6" font-family="'Liberation Serif', 'Times New Roman', serif" font-weight="bold" text-anchor="start" fill="#1f88d8" stroke="#1f88d8" stroke-width="0.22" >104.8 mV dec<tspan font-size="6" dy="-3.5">-1</tspan></text>
<text x="373.6" y="456.8" font-size="8.6" font-family="'Liberation Serif', 'Times New Roman', serif" font-weight="bold" text-anchor="start" fill="#e07a30" stroke="#e07a30" stroke-width="0.22" >70.2 mV dec<tspan font-size="6" dy="-3.5">-1</tspan></text>
<path d="M268,376.2 L270.6,371.6 L273.2,376.2 Z" fill="#1f88d8"/>
<circle cx="270.5" cy="387.5" r="1.6" fill="#eea050"/>
<rect x="268.8" y="399" width="3.2" height="3.2" fill="#2a2a2a"/>
<text x="281.7" y="376.8" font-size="9.2" font-family="'Liberation Serif', 'Times New Roman', serif" font-weight="bold" text-anchor="start" fill="#111" stroke="#111" stroke-width="0.22" ><tspan font-style="italic">f</tspan>-CoO<tspan font-size="5.6" dy="2">x</tspan><tspan dy="-2"></tspan></text>
<text x="281.7" y="390.3" font-size="9.2" font-family="'Liberation Serif', 'Times New Roman', serif" font-weight="bold" text-anchor="start" fill="#111" stroke="#111" stroke-width="0.22" ><tspan font-style="italic">f</tspan>-Ni<tspan font-size="5.6" dy="2">0.1</tspan><tspan dy="-2">Co</tspan><tspan font-size="5.6" dy="2">0.9</tspan><tspan dy="-2">O</tspan><tspan font-size="5.6" dy="2">x</tspan><tspan dy="-2"></tspan></text>
<text x="281.7" y="403.3" font-size="9.2" font-family="'Liberation Serif', 'Times New Roman', serif" font-weight="bold" text-anchor="start" fill="#111" stroke="#111" stroke-width="0.22" ><tspan font-style="italic">f</tspan>-NiO<tspan font-size="5.6" dy="2">x</tspan><tspan dy="-2"></tspan></text></svg></body></html>
